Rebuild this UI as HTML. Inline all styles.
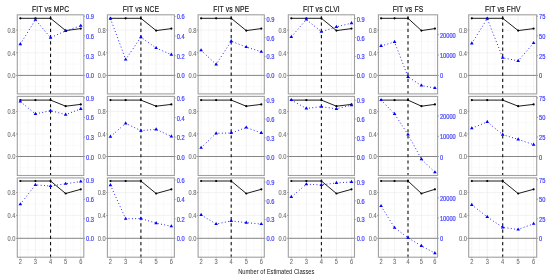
<!DOCTYPE html>
<html><head><meta charset="utf-8"><title>FIT vs indices</title>
<style>
html,body{margin:0;padding:0;background:#fff;}
body{width:550px;height:279px;overflow:hidden;}
svg{display:block;}
text{font-family:"Liberation Sans",Arial,sans-serif;}
.ax{font-size:6.4px;fill:#6E6E6E;stroke:#7a7a7a;stroke-width:0.1px;}
.axr{font-size:6.4px;fill:#3A3AFF;stroke:#5050FF;stroke-width:0.22px;}
.ti{font-size:8.1px;fill:#1A1A1A;stroke:#1A1A1A;stroke-width:0.18px;letter-spacing:0.2px;}
.xl{font-size:6.8px;fill:#1A1A1A;}
</style></head><body>
<svg width="550" height="279" viewBox="0 0 550 279">
<rect width="550" height="279" fill="#fff"/>
<line x1="17.3" y1="86.72" x2="83.8" y2="86.72" stroke="#F7F7F7" stroke-width="0.6"/><line x1="17.3" y1="64.08" x2="83.8" y2="64.08" stroke="#F7F7F7" stroke-width="0.6"/><line x1="17.3" y1="41.44" x2="83.8" y2="41.44" stroke="#F7F7F7" stroke-width="0.6"/><line x1="17.3" y1="18.8" x2="83.8" y2="18.8" stroke="#F7F7F7" stroke-width="0.6"/><line x1="27.88" y1="14.8" x2="27.88" y2="93.9" stroke="#F7F7F7" stroke-width="0.6"/><line x1="42.99" y1="14.8" x2="42.99" y2="93.9" stroke="#F7F7F7" stroke-width="0.6"/><line x1="58.11" y1="14.8" x2="58.11" y2="93.9" stroke="#F7F7F7" stroke-width="0.6"/><line x1="73.22" y1="14.8" x2="73.22" y2="93.9" stroke="#F7F7F7" stroke-width="0.6"/><line x1="17.3" y1="52.76" x2="83.8" y2="52.76" stroke="#F0F0F0" stroke-width="0.8"/><line x1="17.3" y1="30.12" x2="83.8" y2="30.12" stroke="#F0F0F0" stroke-width="0.8"/><line x1="20.32" y1="14.8" x2="20.32" y2="93.9" stroke="#F0F0F0" stroke-width="0.8"/><line x1="35.44" y1="14.8" x2="35.44" y2="93.9" stroke="#F0F0F0" stroke-width="0.8"/><line x1="50.55" y1="14.8" x2="50.55" y2="93.9" stroke="#F0F0F0" stroke-width="0.8"/><line x1="65.66" y1="14.8" x2="65.66" y2="93.9" stroke="#F0F0F0" stroke-width="0.8"/><line x1="80.78" y1="14.8" x2="80.78" y2="93.9" stroke="#F0F0F0" stroke-width="0.8"/>
<line x1="17.3" y1="75.4" x2="83.8" y2="75.4" stroke="#777" stroke-width="0.9"/>
<line x1="50.55" y1="93.9" x2="50.55" y2="14.8" stroke="#111" stroke-width="1.1" stroke-dasharray="3.1 3.15" stroke-dashoffset="0.5"/>
<polyline points="20.32,44.15 35.44,19.65 50.55,37.75 65.66,30.85 80.78,25.75" fill="none" stroke="#0000FF" stroke-width="1" stroke-dasharray="0.83 2.49" stroke-linecap="butt"/>
<polyline points="20.32,18.3 35.44,18.3 50.55,18.3 65.66,30.6 80.78,28.6" fill="none" stroke="#111" stroke-width="0.95"/>
<circle cx="20.32" cy="18.3" r="1.1" fill="#000"/>
<circle cx="35.44" cy="18.3" r="1.1" fill="#000"/>
<circle cx="50.55" cy="18.3" r="1.1" fill="#000"/>
<circle cx="65.66" cy="30.6" r="1.1" fill="#000"/>
<circle cx="80.78" cy="28.6" r="1.1" fill="#000"/>
<path d="M20.32 42.05L22.14 45.2L18.5 45.2Z" fill="#0000FF"/>
<path d="M35.44 17.55L37.25 20.7L33.62 20.7Z" fill="#0000FF"/>
<path d="M50.55 35.65L52.37 38.8L48.73 38.8Z" fill="#0000FF"/>
<path d="M65.66 28.75L67.48 31.9L63.85 31.9Z" fill="#0000FF"/>
<path d="M80.78 23.65L82.6 26.8L78.96 26.8Z" fill="#0000FF"/>
<rect x="17.3" y="14.8" width="66.5" height="79.1" fill="none" stroke="#A0A0A0" stroke-width="1.1"/>
<line x1="16" y1="75.4" x2="17.3" y2="75.4" stroke="#8C8C8C" stroke-width="0.8"/>
<text transform="translate(15.55 78.25) scale(0.89 1.08)" class="ax" text-anchor="end">0.0</text>
<line x1="16" y1="52.76" x2="17.3" y2="52.76" stroke="#8C8C8C" stroke-width="0.8"/>
<text transform="translate(15.55 55.61) scale(0.89 1.08)" class="ax" text-anchor="end">0.4</text>
<line x1="16" y1="30.12" x2="17.3" y2="30.12" stroke="#8C8C8C" stroke-width="0.8"/>
<text transform="translate(15.55 32.97) scale(0.89 1.08)" class="ax" text-anchor="end">0.8</text>
<line x1="83.8" y1="16.2" x2="85.1" y2="16.2" stroke="#8C8C8C" stroke-width="0.8"/>
<text transform="translate(86.1 19.2) scale(0.89 1.05)" class="axr">0.9</text>
<line x1="83.8" y1="35.9" x2="85.1" y2="35.9" stroke="#8C8C8C" stroke-width="0.8"/>
<text transform="translate(86.1 38.9) scale(0.89 1.05)" class="axr">0.6</text>
<line x1="83.8" y1="55.7" x2="85.1" y2="55.7" stroke="#8C8C8C" stroke-width="0.8"/>
<text transform="translate(86.1 58.7) scale(0.89 1.05)" class="axr">0.3</text>
<line x1="83.8" y1="75.4" x2="85.1" y2="75.4" stroke="#8C8C8C" stroke-width="0.8"/>
<text transform="translate(86.1 78.4) scale(0.89 1.05)" class="axr">0.0</text>
<text transform="translate(50.63 11.7) scale(0.835 1.08)" class="ti" text-anchor="middle">FIT vs MPC</text>
<line x1="107.4" y1="86.72" x2="174.4" y2="86.72" stroke="#F7F7F7" stroke-width="0.6"/><line x1="107.4" y1="64.08" x2="174.4" y2="64.08" stroke="#F7F7F7" stroke-width="0.6"/><line x1="107.4" y1="41.44" x2="174.4" y2="41.44" stroke="#F7F7F7" stroke-width="0.6"/><line x1="107.4" y1="18.8" x2="174.4" y2="18.8" stroke="#F7F7F7" stroke-width="0.6"/><line x1="118.06" y1="14.8" x2="118.06" y2="93.9" stroke="#F7F7F7" stroke-width="0.6"/><line x1="133.29" y1="14.8" x2="133.29" y2="93.9" stroke="#F7F7F7" stroke-width="0.6"/><line x1="148.51" y1="14.8" x2="148.51" y2="93.9" stroke="#F7F7F7" stroke-width="0.6"/><line x1="163.74" y1="14.8" x2="163.74" y2="93.9" stroke="#F7F7F7" stroke-width="0.6"/><line x1="107.4" y1="52.76" x2="174.4" y2="52.76" stroke="#F0F0F0" stroke-width="0.8"/><line x1="107.4" y1="30.12" x2="174.4" y2="30.12" stroke="#F0F0F0" stroke-width="0.8"/><line x1="110.45" y1="14.8" x2="110.45" y2="93.9" stroke="#F0F0F0" stroke-width="0.8"/><line x1="125.67" y1="14.8" x2="125.67" y2="93.9" stroke="#F0F0F0" stroke-width="0.8"/><line x1="140.9" y1="14.8" x2="140.9" y2="93.9" stroke="#F0F0F0" stroke-width="0.8"/><line x1="156.13" y1="14.8" x2="156.13" y2="93.9" stroke="#F0F0F0" stroke-width="0.8"/><line x1="171.35" y1="14.8" x2="171.35" y2="93.9" stroke="#F0F0F0" stroke-width="0.8"/>
<line x1="107.4" y1="75.4" x2="174.4" y2="75.4" stroke="#777" stroke-width="0.9"/>
<line x1="140.9" y1="93.9" x2="140.9" y2="14.8" stroke="#111" stroke-width="1.1" stroke-dasharray="3.1 3.15" stroke-dashoffset="0.5"/>
<polyline points="110.45,18.65 125.67,59.55 140.9,37.15 156.13,48.05 171.35,54.65" fill="none" stroke="#0000FF" stroke-width="1" stroke-dasharray="0.83 2.49" stroke-linecap="butt"/>
<polyline points="110.45,18.3 125.67,18.3 140.9,18.3 156.13,30.6 171.35,28.6" fill="none" stroke="#111" stroke-width="0.95"/>
<circle cx="110.45" cy="18.3" r="1.1" fill="#000"/>
<circle cx="125.67" cy="18.3" r="1.1" fill="#000"/>
<circle cx="140.9" cy="18.3" r="1.1" fill="#000"/>
<circle cx="156.13" cy="30.6" r="1.1" fill="#000"/>
<circle cx="171.35" cy="28.6" r="1.1" fill="#000"/>
<path d="M110.45 16.55L112.26 19.7L108.63 19.7Z" fill="#0000FF"/>
<path d="M125.67 57.45L127.49 60.6L123.85 60.6Z" fill="#0000FF"/>
<path d="M140.9 35.05L142.72 38.2L139.08 38.2Z" fill="#0000FF"/>
<path d="M156.13 45.95L157.95 49.1L154.31 49.1Z" fill="#0000FF"/>
<path d="M171.35 52.55L173.17 55.7L169.54 55.7Z" fill="#0000FF"/>
<rect x="107.4" y="14.8" width="67" height="79.1" fill="none" stroke="#A0A0A0" stroke-width="1.1"/>
<line x1="106.1" y1="75.4" x2="107.4" y2="75.4" stroke="#8C8C8C" stroke-width="0.8"/>
<text transform="translate(105.65 78.25) scale(0.89 1.08)" class="ax" text-anchor="end">0.0</text>
<line x1="106.1" y1="52.76" x2="107.4" y2="52.76" stroke="#8C8C8C" stroke-width="0.8"/>
<text transform="translate(105.65 55.61) scale(0.89 1.08)" class="ax" text-anchor="end">0.4</text>
<line x1="106.1" y1="30.12" x2="107.4" y2="30.12" stroke="#8C8C8C" stroke-width="0.8"/>
<text transform="translate(105.65 32.97) scale(0.89 1.08)" class="ax" text-anchor="end">0.8</text>
<line x1="174.4" y1="16.4" x2="175.7" y2="16.4" stroke="#8C8C8C" stroke-width="0.8"/>
<text transform="translate(176.7 19.4) scale(0.89 1.05)" class="axr">0.6</text>
<line x1="174.4" y1="36.1" x2="175.7" y2="36.1" stroke="#8C8C8C" stroke-width="0.8"/>
<text transform="translate(176.7 39.1) scale(0.89 1.05)" class="axr">0.4</text>
<line x1="174.4" y1="55.7" x2="175.7" y2="55.7" stroke="#8C8C8C" stroke-width="0.8"/>
<text transform="translate(176.7 58.7) scale(0.89 1.05)" class="axr">0.2</text>
<line x1="174.4" y1="75.4" x2="175.7" y2="75.4" stroke="#8C8C8C" stroke-width="0.8"/>
<text transform="translate(176.7 78.4) scale(0.89 1.05)" class="axr">0.0</text>
<text transform="translate(140.98 11.7) scale(0.835 1.08)" class="ti" text-anchor="middle">FIT vs NCE</text>
<line x1="198.1" y1="86.72" x2="264.3" y2="86.72" stroke="#F7F7F7" stroke-width="0.6"/><line x1="198.1" y1="64.08" x2="264.3" y2="64.08" stroke="#F7F7F7" stroke-width="0.6"/><line x1="198.1" y1="41.44" x2="264.3" y2="41.44" stroke="#F7F7F7" stroke-width="0.6"/><line x1="198.1" y1="18.8" x2="264.3" y2="18.8" stroke="#F7F7F7" stroke-width="0.6"/><line x1="208.63" y1="14.8" x2="208.63" y2="93.9" stroke="#F7F7F7" stroke-width="0.6"/><line x1="223.68" y1="14.8" x2="223.68" y2="93.9" stroke="#F7F7F7" stroke-width="0.6"/><line x1="238.72" y1="14.8" x2="238.72" y2="93.9" stroke="#F7F7F7" stroke-width="0.6"/><line x1="253.77" y1="14.8" x2="253.77" y2="93.9" stroke="#F7F7F7" stroke-width="0.6"/><line x1="198.1" y1="52.76" x2="264.3" y2="52.76" stroke="#F0F0F0" stroke-width="0.8"/><line x1="198.1" y1="30.12" x2="264.3" y2="30.12" stroke="#F0F0F0" stroke-width="0.8"/><line x1="201.11" y1="14.8" x2="201.11" y2="93.9" stroke="#F0F0F0" stroke-width="0.8"/><line x1="216.15" y1="14.8" x2="216.15" y2="93.9" stroke="#F0F0F0" stroke-width="0.8"/><line x1="231.2" y1="14.8" x2="231.2" y2="93.9" stroke="#F0F0F0" stroke-width="0.8"/><line x1="246.25" y1="14.8" x2="246.25" y2="93.9" stroke="#F0F0F0" stroke-width="0.8"/><line x1="261.29" y1="14.8" x2="261.29" y2="93.9" stroke="#F0F0F0" stroke-width="0.8"/>
<line x1="198.1" y1="75.4" x2="264.3" y2="75.4" stroke="#777" stroke-width="0.9"/>
<line x1="231.2" y1="93.9" x2="231.2" y2="14.8" stroke="#111" stroke-width="1.1" stroke-dasharray="3.1 3.15" stroke-dashoffset="0.5"/>
<polyline points="201.11,50.25 216.15,64.45 231.2,41.15 246.25,47.05 261.29,51.75" fill="none" stroke="#0000FF" stroke-width="1" stroke-dasharray="0.83 2.49" stroke-linecap="butt"/>
<polyline points="201.11,18.3 216.15,18.3 231.2,18.3 246.25,30.6 261.29,28.6" fill="none" stroke="#111" stroke-width="0.95"/>
<circle cx="201.11" cy="18.3" r="1.1" fill="#000"/>
<circle cx="216.15" cy="18.3" r="1.1" fill="#000"/>
<circle cx="231.2" cy="18.3" r="1.1" fill="#000"/>
<circle cx="246.25" cy="30.6" r="1.1" fill="#000"/>
<circle cx="261.29" cy="28.6" r="1.1" fill="#000"/>
<path d="M201.11 48.15L202.93 51.3L199.29 51.3Z" fill="#0000FF"/>
<path d="M216.15 62.35L217.97 65.5L214.34 65.5Z" fill="#0000FF"/>
<path d="M231.2 39.05L233.02 42.2L229.38 42.2Z" fill="#0000FF"/>
<path d="M246.25 44.95L248.06 48.1L244.43 48.1Z" fill="#0000FF"/>
<path d="M261.29 49.65L263.11 52.8L259.47 52.8Z" fill="#0000FF"/>
<rect x="198.1" y="14.8" width="66.2" height="79.1" fill="none" stroke="#A0A0A0" stroke-width="1.1"/>
<line x1="196.8" y1="75.4" x2="198.1" y2="75.4" stroke="#8C8C8C" stroke-width="0.8"/>
<text transform="translate(196.35 78.25) scale(0.89 1.08)" class="ax" text-anchor="end">0.0</text>
<line x1="196.8" y1="52.76" x2="198.1" y2="52.76" stroke="#8C8C8C" stroke-width="0.8"/>
<text transform="translate(196.35 55.61) scale(0.89 1.08)" class="ax" text-anchor="end">0.4</text>
<line x1="196.8" y1="30.12" x2="198.1" y2="30.12" stroke="#8C8C8C" stroke-width="0.8"/>
<text transform="translate(196.35 32.97) scale(0.89 1.08)" class="ax" text-anchor="end">0.8</text>
<line x1="264.3" y1="18.5" x2="265.6" y2="18.5" stroke="#8C8C8C" stroke-width="0.8"/>
<text transform="translate(266.6 21.5) scale(0.89 1.05)" class="axr">0.9</text>
<line x1="264.3" y1="37.5" x2="265.6" y2="37.5" stroke="#8C8C8C" stroke-width="0.8"/>
<text transform="translate(266.6 40.5) scale(0.89 1.05)" class="axr">0.6</text>
<line x1="264.3" y1="56.4" x2="265.6" y2="56.4" stroke="#8C8C8C" stroke-width="0.8"/>
<text transform="translate(266.6 59.4) scale(0.89 1.05)" class="axr">0.3</text>
<line x1="264.3" y1="75.4" x2="265.6" y2="75.4" stroke="#8C8C8C" stroke-width="0.8"/>
<text transform="translate(266.6 78.4) scale(0.89 1.05)" class="axr">0.0</text>
<text transform="translate(231.28 11.7) scale(0.835 1.08)" class="ti" text-anchor="middle">FIT vs NPE</text>
<line x1="288.3" y1="86.72" x2="354.5" y2="86.72" stroke="#F7F7F7" stroke-width="0.6"/><line x1="288.3" y1="64.08" x2="354.5" y2="64.08" stroke="#F7F7F7" stroke-width="0.6"/><line x1="288.3" y1="41.44" x2="354.5" y2="41.44" stroke="#F7F7F7" stroke-width="0.6"/><line x1="288.3" y1="18.8" x2="354.5" y2="18.8" stroke="#F7F7F7" stroke-width="0.6"/><line x1="298.83" y1="14.8" x2="298.83" y2="93.9" stroke="#F7F7F7" stroke-width="0.6"/><line x1="313.88" y1="14.8" x2="313.88" y2="93.9" stroke="#F7F7F7" stroke-width="0.6"/><line x1="328.92" y1="14.8" x2="328.92" y2="93.9" stroke="#F7F7F7" stroke-width="0.6"/><line x1="343.97" y1="14.8" x2="343.97" y2="93.9" stroke="#F7F7F7" stroke-width="0.6"/><line x1="288.3" y1="52.76" x2="354.5" y2="52.76" stroke="#F0F0F0" stroke-width="0.8"/><line x1="288.3" y1="30.12" x2="354.5" y2="30.12" stroke="#F0F0F0" stroke-width="0.8"/><line x1="291.31" y1="14.8" x2="291.31" y2="93.9" stroke="#F0F0F0" stroke-width="0.8"/><line x1="306.35" y1="14.8" x2="306.35" y2="93.9" stroke="#F0F0F0" stroke-width="0.8"/><line x1="321.4" y1="14.8" x2="321.4" y2="93.9" stroke="#F0F0F0" stroke-width="0.8"/><line x1="336.45" y1="14.8" x2="336.45" y2="93.9" stroke="#F0F0F0" stroke-width="0.8"/><line x1="351.49" y1="14.8" x2="351.49" y2="93.9" stroke="#F0F0F0" stroke-width="0.8"/>
<line x1="288.3" y1="75.4" x2="354.5" y2="75.4" stroke="#777" stroke-width="0.9"/>
<line x1="321.4" y1="93.9" x2="321.4" y2="14.8" stroke="#111" stroke-width="1.1" stroke-dasharray="3.1 3.15" stroke-dashoffset="0.5"/>
<polyline points="291.31,36.85 306.35,19.55 321.4,31.75 336.45,26.85 351.49,23.15" fill="none" stroke="#0000FF" stroke-width="1" stroke-dasharray="0.83 2.49" stroke-linecap="butt"/>
<polyline points="291.31,18.3 306.35,18.3 321.4,18.3 336.45,30.6 351.49,28.6" fill="none" stroke="#111" stroke-width="0.95"/>
<circle cx="291.31" cy="18.3" r="1.1" fill="#000"/>
<circle cx="306.35" cy="18.3" r="1.1" fill="#000"/>
<circle cx="321.4" cy="18.3" r="1.1" fill="#000"/>
<circle cx="336.45" cy="30.6" r="1.1" fill="#000"/>
<circle cx="351.49" cy="28.6" r="1.1" fill="#000"/>
<path d="M291.31 34.75L293.13 37.9L289.49 37.9Z" fill="#0000FF"/>
<path d="M306.35 17.45L308.17 20.6L304.54 20.6Z" fill="#0000FF"/>
<path d="M321.4 29.65L323.22 32.8L319.58 32.8Z" fill="#0000FF"/>
<path d="M336.45 24.75L338.26 27.9L334.63 27.9Z" fill="#0000FF"/>
<path d="M351.49 21.05L353.31 24.2L349.67 24.2Z" fill="#0000FF"/>
<rect x="288.3" y="14.8" width="66.2" height="79.1" fill="none" stroke="#A0A0A0" stroke-width="1.1"/>
<line x1="287" y1="75.4" x2="288.3" y2="75.4" stroke="#8C8C8C" stroke-width="0.8"/>
<text transform="translate(286.55 78.25) scale(0.89 1.08)" class="ax" text-anchor="end">0.0</text>
<line x1="287" y1="52.76" x2="288.3" y2="52.76" stroke="#8C8C8C" stroke-width="0.8"/>
<text transform="translate(286.55 55.61) scale(0.89 1.08)" class="ax" text-anchor="end">0.4</text>
<line x1="287" y1="30.12" x2="288.3" y2="30.12" stroke="#8C8C8C" stroke-width="0.8"/>
<text transform="translate(286.55 32.97) scale(0.89 1.08)" class="ax" text-anchor="end">0.8</text>
<line x1="354.5" y1="18.5" x2="355.8" y2="18.5" stroke="#8C8C8C" stroke-width="0.8"/>
<text transform="translate(356.8 21.5) scale(0.89 1.05)" class="axr">0.9</text>
<line x1="354.5" y1="37.5" x2="355.8" y2="37.5" stroke="#8C8C8C" stroke-width="0.8"/>
<text transform="translate(356.8 40.5) scale(0.89 1.05)" class="axr">0.6</text>
<line x1="354.5" y1="56.4" x2="355.8" y2="56.4" stroke="#8C8C8C" stroke-width="0.8"/>
<text transform="translate(356.8 59.4) scale(0.89 1.05)" class="axr">0.3</text>
<line x1="354.5" y1="75.4" x2="355.8" y2="75.4" stroke="#8C8C8C" stroke-width="0.8"/>
<text transform="translate(356.8 78.4) scale(0.89 1.05)" class="axr">0.0</text>
<text transform="translate(321.48 11.7) scale(0.835 1.08)" class="ti" text-anchor="middle">FIT vs CLVI</text>
<line x1="378.4" y1="86.72" x2="437.6" y2="86.72" stroke="#F7F7F7" stroke-width="0.6"/><line x1="378.4" y1="64.08" x2="437.6" y2="64.08" stroke="#F7F7F7" stroke-width="0.6"/><line x1="378.4" y1="41.44" x2="437.6" y2="41.44" stroke="#F7F7F7" stroke-width="0.6"/><line x1="378.4" y1="18.8" x2="437.6" y2="18.8" stroke="#F7F7F7" stroke-width="0.6"/><line x1="387.82" y1="14.8" x2="387.82" y2="93.9" stroke="#F7F7F7" stroke-width="0.6"/><line x1="401.27" y1="14.8" x2="401.27" y2="93.9" stroke="#F7F7F7" stroke-width="0.6"/><line x1="414.73" y1="14.8" x2="414.73" y2="93.9" stroke="#F7F7F7" stroke-width="0.6"/><line x1="428.18" y1="14.8" x2="428.18" y2="93.9" stroke="#F7F7F7" stroke-width="0.6"/><line x1="378.4" y1="52.76" x2="437.6" y2="52.76" stroke="#F0F0F0" stroke-width="0.8"/><line x1="378.4" y1="30.12" x2="437.6" y2="30.12" stroke="#F0F0F0" stroke-width="0.8"/><line x1="381.09" y1="14.8" x2="381.09" y2="93.9" stroke="#F0F0F0" stroke-width="0.8"/><line x1="394.55" y1="14.8" x2="394.55" y2="93.9" stroke="#F0F0F0" stroke-width="0.8"/><line x1="408" y1="14.8" x2="408" y2="93.9" stroke="#F0F0F0" stroke-width="0.8"/><line x1="421.45" y1="14.8" x2="421.45" y2="93.9" stroke="#F0F0F0" stroke-width="0.8"/><line x1="434.91" y1="14.8" x2="434.91" y2="93.9" stroke="#F0F0F0" stroke-width="0.8"/>
<line x1="378.4" y1="75.4" x2="437.6" y2="75.4" stroke="#777" stroke-width="0.9"/>
<line x1="408" y1="93.9" x2="408" y2="14.8" stroke="#111" stroke-width="1.1" stroke-dasharray="3.1 3.15" stroke-dashoffset="0.5"/>
<polyline points="381.09,45.95 394.55,41.95 408,76.85 421.45,85.55 434.91,88.05" fill="none" stroke="#0000FF" stroke-width="1" stroke-dasharray="0.83 2.49" stroke-linecap="butt"/>
<polyline points="381.09,18.3 394.55,18.3 408,18.3 421.45,30.6 434.91,28.6" fill="none" stroke="#111" stroke-width="0.95"/>
<circle cx="381.09" cy="18.3" r="1.1" fill="#000"/>
<circle cx="394.55" cy="18.3" r="1.1" fill="#000"/>
<circle cx="408" cy="18.3" r="1.1" fill="#000"/>
<circle cx="421.45" cy="30.6" r="1.1" fill="#000"/>
<circle cx="434.91" cy="28.6" r="1.1" fill="#000"/>
<path d="M381.09 43.85L382.91 47L379.27 47Z" fill="#0000FF"/>
<path d="M394.55 39.85L396.36 43L392.73 43Z" fill="#0000FF"/>
<path d="M408 74.75L409.82 77.9L406.18 77.9Z" fill="#0000FF"/>
<path d="M421.45 83.45L423.27 86.6L419.64 86.6Z" fill="#0000FF"/>
<path d="M434.91 85.95L436.73 89.1L433.09 89.1Z" fill="#0000FF"/>
<rect x="378.4" y="14.8" width="59.2" height="79.1" fill="none" stroke="#A0A0A0" stroke-width="1.1"/>
<line x1="377.1" y1="75.4" x2="378.4" y2="75.4" stroke="#8C8C8C" stroke-width="0.8"/>
<text transform="translate(376.65 78.25) scale(0.89 1.08)" class="ax" text-anchor="end">0.0</text>
<line x1="377.1" y1="52.76" x2="378.4" y2="52.76" stroke="#8C8C8C" stroke-width="0.8"/>
<text transform="translate(376.65 55.61) scale(0.89 1.08)" class="ax" text-anchor="end">0.4</text>
<line x1="377.1" y1="30.12" x2="378.4" y2="30.12" stroke="#8C8C8C" stroke-width="0.8"/>
<text transform="translate(376.65 32.97) scale(0.89 1.08)" class="ax" text-anchor="end">0.8</text>
<line x1="437.6" y1="34.6" x2="438.9" y2="34.6" stroke="#8C8C8C" stroke-width="0.8"/>
<text transform="translate(439.9 37.6) scale(0.89 1.05)" class="axr">20000</text>
<line x1="437.6" y1="55" x2="438.9" y2="55" stroke="#8C8C8C" stroke-width="0.8"/>
<text transform="translate(439.9 58) scale(0.89 1.05)" class="axr">10000</text>
<line x1="437.6" y1="75.4" x2="438.9" y2="75.4" stroke="#8C8C8C" stroke-width="0.8"/>
<text transform="translate(439.9 78.4) scale(0.89 1.05)" class="axr">0</text>
<text transform="translate(408.08 11.7) scale(0.835 1.08)" class="ti" text-anchor="middle">FIT vs FS</text>
<line x1="468.7" y1="86.72" x2="536.7" y2="86.72" stroke="#F7F7F7" stroke-width="0.6"/><line x1="468.7" y1="64.08" x2="536.7" y2="64.08" stroke="#F7F7F7" stroke-width="0.6"/><line x1="468.7" y1="41.44" x2="536.7" y2="41.44" stroke="#F7F7F7" stroke-width="0.6"/><line x1="468.7" y1="18.8" x2="536.7" y2="18.8" stroke="#F7F7F7" stroke-width="0.6"/><line x1="479.52" y1="14.8" x2="479.52" y2="93.9" stroke="#F7F7F7" stroke-width="0.6"/><line x1="494.97" y1="14.8" x2="494.97" y2="93.9" stroke="#F7F7F7" stroke-width="0.6"/><line x1="510.43" y1="14.8" x2="510.43" y2="93.9" stroke="#F7F7F7" stroke-width="0.6"/><line x1="525.88" y1="14.8" x2="525.88" y2="93.9" stroke="#F7F7F7" stroke-width="0.6"/><line x1="468.7" y1="52.76" x2="536.7" y2="52.76" stroke="#F0F0F0" stroke-width="0.8"/><line x1="468.7" y1="30.12" x2="536.7" y2="30.12" stroke="#F0F0F0" stroke-width="0.8"/><line x1="471.79" y1="14.8" x2="471.79" y2="93.9" stroke="#F0F0F0" stroke-width="0.8"/><line x1="487.25" y1="14.8" x2="487.25" y2="93.9" stroke="#F0F0F0" stroke-width="0.8"/><line x1="502.7" y1="14.8" x2="502.7" y2="93.9" stroke="#F0F0F0" stroke-width="0.8"/><line x1="518.15" y1="14.8" x2="518.15" y2="93.9" stroke="#F0F0F0" stroke-width="0.8"/><line x1="533.61" y1="14.8" x2="533.61" y2="93.9" stroke="#F0F0F0" stroke-width="0.8"/>
<line x1="468.7" y1="75.4" x2="536.7" y2="75.4" stroke="#777" stroke-width="0.9"/>
<line x1="502.7" y1="93.9" x2="502.7" y2="14.8" stroke="#111" stroke-width="1.1" stroke-dasharray="3.1 3.15" stroke-dashoffset="0.5"/>
<polyline points="471.79,43.35 487.25,18.65 502.7,57.75 518.15,60.85 533.61,43.05" fill="none" stroke="#0000FF" stroke-width="1" stroke-dasharray="0.83 2.49" stroke-linecap="butt"/>
<polyline points="471.79,18.3 487.25,18.3 502.7,18.3 518.15,30.6 533.61,28.6" fill="none" stroke="#111" stroke-width="0.95"/>
<circle cx="471.79" cy="18.3" r="1.1" fill="#000"/>
<circle cx="487.25" cy="18.3" r="1.1" fill="#000"/>
<circle cx="502.7" cy="18.3" r="1.1" fill="#000"/>
<circle cx="518.15" cy="30.6" r="1.1" fill="#000"/>
<circle cx="533.61" cy="28.6" r="1.1" fill="#000"/>
<path d="M471.79 41.25L473.61 44.4L469.97 44.4Z" fill="#0000FF"/>
<path d="M487.25 16.55L489.06 19.7L485.43 19.7Z" fill="#0000FF"/>
<path d="M502.7 55.65L504.52 58.8L500.88 58.8Z" fill="#0000FF"/>
<path d="M518.15 58.75L519.97 61.9L516.34 61.9Z" fill="#0000FF"/>
<path d="M533.61 40.95L535.43 44.1L531.79 44.1Z" fill="#0000FF"/>
<rect x="468.7" y="14.8" width="68" height="79.1" fill="none" stroke="#A0A0A0" stroke-width="1.1"/>
<line x1="467.4" y1="75.4" x2="468.7" y2="75.4" stroke="#8C8C8C" stroke-width="0.8"/>
<text transform="translate(466.95 78.25) scale(0.89 1.08)" class="ax" text-anchor="end">0.0</text>
<line x1="467.4" y1="52.76" x2="468.7" y2="52.76" stroke="#8C8C8C" stroke-width="0.8"/>
<text transform="translate(466.95 55.61) scale(0.89 1.08)" class="ax" text-anchor="end">0.4</text>
<line x1="467.4" y1="30.12" x2="468.7" y2="30.12" stroke="#8C8C8C" stroke-width="0.8"/>
<text transform="translate(466.95 32.97) scale(0.89 1.08)" class="ax" text-anchor="end">0.8</text>
<line x1="536.7" y1="16.2" x2="538" y2="16.2" stroke="#8C8C8C" stroke-width="0.8"/>
<text transform="translate(539 19.2) scale(0.89 1.05)" class="axr">75</text>
<line x1="536.7" y1="35.9" x2="538" y2="35.9" stroke="#8C8C8C" stroke-width="0.8"/>
<text transform="translate(539 38.9) scale(0.89 1.05)" class="axr">50</text>
<line x1="536.7" y1="55.7" x2="538" y2="55.7" stroke="#8C8C8C" stroke-width="0.8"/>
<text transform="translate(539 58.7) scale(0.89 1.05)" class="axr">25</text>
<line x1="536.7" y1="75.4" x2="538" y2="75.4" stroke="#8C8C8C" stroke-width="0.8"/>
<text transform="translate(539 78.4) scale(0.89 1.05)" class="axr">0</text>
<text transform="translate(502.78 11.7) scale(0.835 1.08)" class="ti" text-anchor="middle">FIT vs FHV</text>
<line x1="17.3" y1="167.76" x2="83.8" y2="167.76" stroke="#F7F7F7" stroke-width="0.6"/><line x1="17.3" y1="145.24" x2="83.8" y2="145.24" stroke="#F7F7F7" stroke-width="0.6"/><line x1="17.3" y1="122.72" x2="83.8" y2="122.72" stroke="#F7F7F7" stroke-width="0.6"/><line x1="17.3" y1="100.2" x2="83.8" y2="100.2" stroke="#F7F7F7" stroke-width="0.6"/><line x1="27.88" y1="96.4" x2="27.88" y2="175.5" stroke="#F7F7F7" stroke-width="0.6"/><line x1="42.99" y1="96.4" x2="42.99" y2="175.5" stroke="#F7F7F7" stroke-width="0.6"/><line x1="58.11" y1="96.4" x2="58.11" y2="175.5" stroke="#F7F7F7" stroke-width="0.6"/><line x1="73.22" y1="96.4" x2="73.22" y2="175.5" stroke="#F7F7F7" stroke-width="0.6"/><line x1="17.3" y1="133.98" x2="83.8" y2="133.98" stroke="#F0F0F0" stroke-width="0.8"/><line x1="17.3" y1="111.46" x2="83.8" y2="111.46" stroke="#F0F0F0" stroke-width="0.8"/><line x1="20.32" y1="96.4" x2="20.32" y2="175.5" stroke="#F0F0F0" stroke-width="0.8"/><line x1="35.44" y1="96.4" x2="35.44" y2="175.5" stroke="#F0F0F0" stroke-width="0.8"/><line x1="50.55" y1="96.4" x2="50.55" y2="175.5" stroke="#F0F0F0" stroke-width="0.8"/><line x1="65.66" y1="96.4" x2="65.66" y2="175.5" stroke="#F0F0F0" stroke-width="0.8"/><line x1="80.78" y1="96.4" x2="80.78" y2="175.5" stroke="#F0F0F0" stroke-width="0.8"/>
<line x1="17.3" y1="156.5" x2="83.8" y2="156.5" stroke="#777" stroke-width="0.9"/>
<line x1="50.55" y1="175.5" x2="50.55" y2="96.4" stroke="#111" stroke-width="1.1" stroke-dasharray="3.1 3.15" stroke-dashoffset="0.5"/>
<polyline points="20.32,101.55 35.44,113.95 50.55,110.65 65.66,114.65 80.78,108.85" fill="none" stroke="#0000FF" stroke-width="1" stroke-dasharray="0.83 2.49" stroke-linecap="butt"/>
<polyline points="20.32,100.1 35.44,100.1 50.55,100.1 65.66,106.2 80.78,104.4" fill="none" stroke="#111" stroke-width="0.95"/>
<circle cx="20.32" cy="100.1" r="1.1" fill="#000"/>
<circle cx="35.44" cy="100.1" r="1.1" fill="#000"/>
<circle cx="50.55" cy="100.1" r="1.1" fill="#000"/>
<circle cx="65.66" cy="106.2" r="1.1" fill="#000"/>
<circle cx="80.78" cy="104.4" r="1.1" fill="#000"/>
<path d="M20.32 99.45L22.14 102.6L18.5 102.6Z" fill="#0000FF"/>
<path d="M35.44 111.85L37.25 115L33.62 115Z" fill="#0000FF"/>
<path d="M50.55 108.55L52.37 111.7L48.73 111.7Z" fill="#0000FF"/>
<path d="M65.66 112.55L67.48 115.7L63.85 115.7Z" fill="#0000FF"/>
<path d="M80.78 106.75L82.6 109.9L78.96 109.9Z" fill="#0000FF"/>
<rect x="17.3" y="96.4" width="66.5" height="79.1" fill="none" stroke="#A0A0A0" stroke-width="1.1"/>
<line x1="16" y1="156.5" x2="17.3" y2="156.5" stroke="#8C8C8C" stroke-width="0.8"/>
<text transform="translate(15.55 159.35) scale(0.89 1.08)" class="ax" text-anchor="end">0.0</text>
<line x1="16" y1="133.98" x2="17.3" y2="133.98" stroke="#8C8C8C" stroke-width="0.8"/>
<text transform="translate(15.55 136.83) scale(0.89 1.08)" class="ax" text-anchor="end">0.4</text>
<line x1="16" y1="111.46" x2="17.3" y2="111.46" stroke="#8C8C8C" stroke-width="0.8"/>
<text transform="translate(15.55 114.31) scale(0.89 1.08)" class="ax" text-anchor="end">0.8</text>
<line x1="83.8" y1="97.89" x2="85.1" y2="97.89" stroke="#8C8C8C" stroke-width="0.8"/>
<text transform="translate(86.1 100.89) scale(0.89 1.05)" class="axr">0.9</text>
<line x1="83.8" y1="117.4" x2="85.1" y2="117.4" stroke="#8C8C8C" stroke-width="0.8"/>
<text transform="translate(86.1 120.4) scale(0.89 1.05)" class="axr">0.6</text>
<line x1="83.8" y1="137" x2="85.1" y2="137" stroke="#8C8C8C" stroke-width="0.8"/>
<text transform="translate(86.1 140) scale(0.89 1.05)" class="axr">0.3</text>
<line x1="83.8" y1="156.5" x2="85.1" y2="156.5" stroke="#8C8C8C" stroke-width="0.8"/>
<text transform="translate(86.1 159.5) scale(0.89 1.05)" class="axr">0.0</text>
<line x1="107.4" y1="167.76" x2="174.4" y2="167.76" stroke="#F7F7F7" stroke-width="0.6"/><line x1="107.4" y1="145.24" x2="174.4" y2="145.24" stroke="#F7F7F7" stroke-width="0.6"/><line x1="107.4" y1="122.72" x2="174.4" y2="122.72" stroke="#F7F7F7" stroke-width="0.6"/><line x1="107.4" y1="100.2" x2="174.4" y2="100.2" stroke="#F7F7F7" stroke-width="0.6"/><line x1="118.06" y1="96.4" x2="118.06" y2="175.5" stroke="#F7F7F7" stroke-width="0.6"/><line x1="133.29" y1="96.4" x2="133.29" y2="175.5" stroke="#F7F7F7" stroke-width="0.6"/><line x1="148.51" y1="96.4" x2="148.51" y2="175.5" stroke="#F7F7F7" stroke-width="0.6"/><line x1="163.74" y1="96.4" x2="163.74" y2="175.5" stroke="#F7F7F7" stroke-width="0.6"/><line x1="107.4" y1="133.98" x2="174.4" y2="133.98" stroke="#F0F0F0" stroke-width="0.8"/><line x1="107.4" y1="111.46" x2="174.4" y2="111.46" stroke="#F0F0F0" stroke-width="0.8"/><line x1="110.45" y1="96.4" x2="110.45" y2="175.5" stroke="#F0F0F0" stroke-width="0.8"/><line x1="125.67" y1="96.4" x2="125.67" y2="175.5" stroke="#F0F0F0" stroke-width="0.8"/><line x1="140.9" y1="96.4" x2="140.9" y2="175.5" stroke="#F0F0F0" stroke-width="0.8"/><line x1="156.13" y1="96.4" x2="156.13" y2="175.5" stroke="#F0F0F0" stroke-width="0.8"/><line x1="171.35" y1="96.4" x2="171.35" y2="175.5" stroke="#F0F0F0" stroke-width="0.8"/>
<line x1="107.4" y1="156.5" x2="174.4" y2="156.5" stroke="#777" stroke-width="0.9"/>
<line x1="140.9" y1="175.5" x2="140.9" y2="96.4" stroke="#111" stroke-width="1.1" stroke-dasharray="3.1 3.15" stroke-dashoffset="0.5"/>
<polyline points="110.45,136.65 125.67,123.35 140.9,130.65 156.13,129.35 171.35,136.45" fill="none" stroke="#0000FF" stroke-width="1" stroke-dasharray="0.83 2.49" stroke-linecap="butt"/>
<polyline points="110.45,100.1 125.67,100.1 140.9,100.1 156.13,106.2 171.35,104.4" fill="none" stroke="#111" stroke-width="0.95"/>
<circle cx="110.45" cy="100.1" r="1.1" fill="#000"/>
<circle cx="125.67" cy="100.1" r="1.1" fill="#000"/>
<circle cx="140.9" cy="100.1" r="1.1" fill="#000"/>
<circle cx="156.13" cy="106.2" r="1.1" fill="#000"/>
<circle cx="171.35" cy="104.4" r="1.1" fill="#000"/>
<path d="M110.45 134.55L112.26 137.7L108.63 137.7Z" fill="#0000FF"/>
<path d="M125.67 121.25L127.49 124.4L123.85 124.4Z" fill="#0000FF"/>
<path d="M140.9 128.55L142.72 131.7L139.08 131.7Z" fill="#0000FF"/>
<path d="M156.13 127.25L157.95 130.4L154.31 130.4Z" fill="#0000FF"/>
<path d="M171.35 134.35L173.17 137.5L169.54 137.5Z" fill="#0000FF"/>
<rect x="107.4" y="96.4" width="67" height="79.1" fill="none" stroke="#A0A0A0" stroke-width="1.1"/>
<line x1="106.1" y1="156.5" x2="107.4" y2="156.5" stroke="#8C8C8C" stroke-width="0.8"/>
<text transform="translate(105.65 159.35) scale(0.89 1.08)" class="ax" text-anchor="end">0.0</text>
<line x1="106.1" y1="133.98" x2="107.4" y2="133.98" stroke="#8C8C8C" stroke-width="0.8"/>
<text transform="translate(105.65 136.83) scale(0.89 1.08)" class="ax" text-anchor="end">0.4</text>
<line x1="106.1" y1="111.46" x2="107.4" y2="111.46" stroke="#8C8C8C" stroke-width="0.8"/>
<text transform="translate(105.65 114.31) scale(0.89 1.08)" class="ax" text-anchor="end">0.8</text>
<line x1="174.4" y1="98.09" x2="175.7" y2="98.09" stroke="#8C8C8C" stroke-width="0.8"/>
<text transform="translate(176.7 101.09) scale(0.89 1.05)" class="axr">0.6</text>
<line x1="174.4" y1="117.59" x2="175.7" y2="117.59" stroke="#8C8C8C" stroke-width="0.8"/>
<text transform="translate(176.7 120.59) scale(0.89 1.05)" class="axr">0.4</text>
<line x1="174.4" y1="137" x2="175.7" y2="137" stroke="#8C8C8C" stroke-width="0.8"/>
<text transform="translate(176.7 140) scale(0.89 1.05)" class="axr">0.2</text>
<line x1="174.4" y1="156.5" x2="175.7" y2="156.5" stroke="#8C8C8C" stroke-width="0.8"/>
<text transform="translate(176.7 159.5) scale(0.89 1.05)" class="axr">0.0</text>
<line x1="198.1" y1="167.76" x2="264.3" y2="167.76" stroke="#F7F7F7" stroke-width="0.6"/><line x1="198.1" y1="145.24" x2="264.3" y2="145.24" stroke="#F7F7F7" stroke-width="0.6"/><line x1="198.1" y1="122.72" x2="264.3" y2="122.72" stroke="#F7F7F7" stroke-width="0.6"/><line x1="198.1" y1="100.2" x2="264.3" y2="100.2" stroke="#F7F7F7" stroke-width="0.6"/><line x1="208.63" y1="96.4" x2="208.63" y2="175.5" stroke="#F7F7F7" stroke-width="0.6"/><line x1="223.68" y1="96.4" x2="223.68" y2="175.5" stroke="#F7F7F7" stroke-width="0.6"/><line x1="238.72" y1="96.4" x2="238.72" y2="175.5" stroke="#F7F7F7" stroke-width="0.6"/><line x1="253.77" y1="96.4" x2="253.77" y2="175.5" stroke="#F7F7F7" stroke-width="0.6"/><line x1="198.1" y1="133.98" x2="264.3" y2="133.98" stroke="#F0F0F0" stroke-width="0.8"/><line x1="198.1" y1="111.46" x2="264.3" y2="111.46" stroke="#F0F0F0" stroke-width="0.8"/><line x1="201.11" y1="96.4" x2="201.11" y2="175.5" stroke="#F0F0F0" stroke-width="0.8"/><line x1="216.15" y1="96.4" x2="216.15" y2="175.5" stroke="#F0F0F0" stroke-width="0.8"/><line x1="231.2" y1="96.4" x2="231.2" y2="175.5" stroke="#F0F0F0" stroke-width="0.8"/><line x1="246.25" y1="96.4" x2="246.25" y2="175.5" stroke="#F0F0F0" stroke-width="0.8"/><line x1="261.29" y1="96.4" x2="261.29" y2="175.5" stroke="#F0F0F0" stroke-width="0.8"/>
<line x1="198.1" y1="156.5" x2="264.3" y2="156.5" stroke="#777" stroke-width="0.9"/>
<line x1="231.2" y1="175.5" x2="231.2" y2="96.4" stroke="#111" stroke-width="1.1" stroke-dasharray="3.1 3.15" stroke-dashoffset="0.5"/>
<polyline points="201.11,147.75 216.15,133.35 231.2,132.95 246.25,127.55 261.29,132.85" fill="none" stroke="#0000FF" stroke-width="1" stroke-dasharray="0.83 2.49" stroke-linecap="butt"/>
<polyline points="201.11,100.1 216.15,100.1 231.2,100.1 246.25,106.2 261.29,104.4" fill="none" stroke="#111" stroke-width="0.95"/>
<circle cx="201.11" cy="100.1" r="1.1" fill="#000"/>
<circle cx="216.15" cy="100.1" r="1.1" fill="#000"/>
<circle cx="231.2" cy="100.1" r="1.1" fill="#000"/>
<circle cx="246.25" cy="106.2" r="1.1" fill="#000"/>
<circle cx="261.29" cy="104.4" r="1.1" fill="#000"/>
<path d="M201.11 145.65L202.93 148.8L199.29 148.8Z" fill="#0000FF"/>
<path d="M216.15 131.25L217.97 134.4L214.34 134.4Z" fill="#0000FF"/>
<path d="M231.2 130.85L233.02 134L229.38 134Z" fill="#0000FF"/>
<path d="M246.25 125.45L248.06 128.6L244.43 128.6Z" fill="#0000FF"/>
<path d="M261.29 130.75L263.11 133.9L259.47 133.9Z" fill="#0000FF"/>
<rect x="198.1" y="96.4" width="66.2" height="79.1" fill="none" stroke="#A0A0A0" stroke-width="1.1"/>
<line x1="196.8" y1="156.5" x2="198.1" y2="156.5" stroke="#8C8C8C" stroke-width="0.8"/>
<text transform="translate(196.35 159.35) scale(0.89 1.08)" class="ax" text-anchor="end">0.0</text>
<line x1="196.8" y1="133.98" x2="198.1" y2="133.98" stroke="#8C8C8C" stroke-width="0.8"/>
<text transform="translate(196.35 136.83) scale(0.89 1.08)" class="ax" text-anchor="end">0.4</text>
<line x1="196.8" y1="111.46" x2="198.1" y2="111.46" stroke="#8C8C8C" stroke-width="0.8"/>
<text transform="translate(196.35 114.31) scale(0.89 1.08)" class="ax" text-anchor="end">0.8</text>
<line x1="264.3" y1="100.17" x2="265.6" y2="100.17" stroke="#8C8C8C" stroke-width="0.8"/>
<text transform="translate(266.6 103.17) scale(0.89 1.05)" class="axr">0.9</text>
<line x1="264.3" y1="118.98" x2="265.6" y2="118.98" stroke="#8C8C8C" stroke-width="0.8"/>
<text transform="translate(266.6 121.98) scale(0.89 1.05)" class="axr">0.6</text>
<line x1="264.3" y1="137.69" x2="265.6" y2="137.69" stroke="#8C8C8C" stroke-width="0.8"/>
<text transform="translate(266.6 140.69) scale(0.89 1.05)" class="axr">0.3</text>
<line x1="264.3" y1="156.5" x2="265.6" y2="156.5" stroke="#8C8C8C" stroke-width="0.8"/>
<text transform="translate(266.6 159.5) scale(0.89 1.05)" class="axr">0.0</text>
<line x1="288.3" y1="167.76" x2="354.5" y2="167.76" stroke="#F7F7F7" stroke-width="0.6"/><line x1="288.3" y1="145.24" x2="354.5" y2="145.24" stroke="#F7F7F7" stroke-width="0.6"/><line x1="288.3" y1="122.72" x2="354.5" y2="122.72" stroke="#F7F7F7" stroke-width="0.6"/><line x1="288.3" y1="100.2" x2="354.5" y2="100.2" stroke="#F7F7F7" stroke-width="0.6"/><line x1="298.83" y1="96.4" x2="298.83" y2="175.5" stroke="#F7F7F7" stroke-width="0.6"/><line x1="313.88" y1="96.4" x2="313.88" y2="175.5" stroke="#F7F7F7" stroke-width="0.6"/><line x1="328.92" y1="96.4" x2="328.92" y2="175.5" stroke="#F7F7F7" stroke-width="0.6"/><line x1="343.97" y1="96.4" x2="343.97" y2="175.5" stroke="#F7F7F7" stroke-width="0.6"/><line x1="288.3" y1="133.98" x2="354.5" y2="133.98" stroke="#F0F0F0" stroke-width="0.8"/><line x1="288.3" y1="111.46" x2="354.5" y2="111.46" stroke="#F0F0F0" stroke-width="0.8"/><line x1="291.31" y1="96.4" x2="291.31" y2="175.5" stroke="#F0F0F0" stroke-width="0.8"/><line x1="306.35" y1="96.4" x2="306.35" y2="175.5" stroke="#F0F0F0" stroke-width="0.8"/><line x1="321.4" y1="96.4" x2="321.4" y2="175.5" stroke="#F0F0F0" stroke-width="0.8"/><line x1="336.45" y1="96.4" x2="336.45" y2="175.5" stroke="#F0F0F0" stroke-width="0.8"/><line x1="351.49" y1="96.4" x2="351.49" y2="175.5" stroke="#F0F0F0" stroke-width="0.8"/>
<line x1="288.3" y1="156.5" x2="354.5" y2="156.5" stroke="#777" stroke-width="0.9"/>
<line x1="321.4" y1="175.5" x2="321.4" y2="96.4" stroke="#111" stroke-width="1.1" stroke-dasharray="3.1 3.15" stroke-dashoffset="0.5"/>
<polyline points="291.31,100.05 306.35,108.45 321.4,106.65 336.45,108.85 351.49,105.15" fill="none" stroke="#0000FF" stroke-width="1" stroke-dasharray="0.83 2.49" stroke-linecap="butt"/>
<polyline points="291.31,100.1 306.35,100.1 321.4,100.1 336.45,106.2 351.49,104.4" fill="none" stroke="#111" stroke-width="0.95"/>
<circle cx="291.31" cy="100.1" r="1.1" fill="#000"/>
<circle cx="306.35" cy="100.1" r="1.1" fill="#000"/>
<circle cx="321.4" cy="100.1" r="1.1" fill="#000"/>
<circle cx="336.45" cy="106.2" r="1.1" fill="#000"/>
<circle cx="351.49" cy="104.4" r="1.1" fill="#000"/>
<path d="M291.31 97.95L293.13 101.1L289.49 101.1Z" fill="#0000FF"/>
<path d="M306.35 106.35L308.17 109.5L304.54 109.5Z" fill="#0000FF"/>
<path d="M321.4 104.55L323.22 107.7L319.58 107.7Z" fill="#0000FF"/>
<path d="M336.45 106.75L338.26 109.9L334.63 109.9Z" fill="#0000FF"/>
<path d="M351.49 103.05L353.31 106.2L349.67 106.2Z" fill="#0000FF"/>
<rect x="288.3" y="96.4" width="66.2" height="79.1" fill="none" stroke="#A0A0A0" stroke-width="1.1"/>
<line x1="287" y1="156.5" x2="288.3" y2="156.5" stroke="#8C8C8C" stroke-width="0.8"/>
<text transform="translate(286.55 159.35) scale(0.89 1.08)" class="ax" text-anchor="end">0.0</text>
<line x1="287" y1="133.98" x2="288.3" y2="133.98" stroke="#8C8C8C" stroke-width="0.8"/>
<text transform="translate(286.55 136.83) scale(0.89 1.08)" class="ax" text-anchor="end">0.4</text>
<line x1="287" y1="111.46" x2="288.3" y2="111.46" stroke="#8C8C8C" stroke-width="0.8"/>
<text transform="translate(286.55 114.31) scale(0.89 1.08)" class="ax" text-anchor="end">0.8</text>
<line x1="354.5" y1="100.17" x2="355.8" y2="100.17" stroke="#8C8C8C" stroke-width="0.8"/>
<text transform="translate(356.8 103.17) scale(0.89 1.05)" class="axr">0.9</text>
<line x1="354.5" y1="118.98" x2="355.8" y2="118.98" stroke="#8C8C8C" stroke-width="0.8"/>
<text transform="translate(356.8 121.98) scale(0.89 1.05)" class="axr">0.6</text>
<line x1="354.5" y1="137.69" x2="355.8" y2="137.69" stroke="#8C8C8C" stroke-width="0.8"/>
<text transform="translate(356.8 140.69) scale(0.89 1.05)" class="axr">0.3</text>
<line x1="354.5" y1="156.5" x2="355.8" y2="156.5" stroke="#8C8C8C" stroke-width="0.8"/>
<text transform="translate(356.8 159.5) scale(0.89 1.05)" class="axr">0.0</text>
<line x1="378.4" y1="167.76" x2="437.6" y2="167.76" stroke="#F7F7F7" stroke-width="0.6"/><line x1="378.4" y1="145.24" x2="437.6" y2="145.24" stroke="#F7F7F7" stroke-width="0.6"/><line x1="378.4" y1="122.72" x2="437.6" y2="122.72" stroke="#F7F7F7" stroke-width="0.6"/><line x1="378.4" y1="100.2" x2="437.6" y2="100.2" stroke="#F7F7F7" stroke-width="0.6"/><line x1="387.82" y1="96.4" x2="387.82" y2="175.5" stroke="#F7F7F7" stroke-width="0.6"/><line x1="401.27" y1="96.4" x2="401.27" y2="175.5" stroke="#F7F7F7" stroke-width="0.6"/><line x1="414.73" y1="96.4" x2="414.73" y2="175.5" stroke="#F7F7F7" stroke-width="0.6"/><line x1="428.18" y1="96.4" x2="428.18" y2="175.5" stroke="#F7F7F7" stroke-width="0.6"/><line x1="378.4" y1="133.98" x2="437.6" y2="133.98" stroke="#F0F0F0" stroke-width="0.8"/><line x1="378.4" y1="111.46" x2="437.6" y2="111.46" stroke="#F0F0F0" stroke-width="0.8"/><line x1="381.09" y1="96.4" x2="381.09" y2="175.5" stroke="#F0F0F0" stroke-width="0.8"/><line x1="394.55" y1="96.4" x2="394.55" y2="175.5" stroke="#F0F0F0" stroke-width="0.8"/><line x1="408" y1="96.4" x2="408" y2="175.5" stroke="#F0F0F0" stroke-width="0.8"/><line x1="421.45" y1="96.4" x2="421.45" y2="175.5" stroke="#F0F0F0" stroke-width="0.8"/><line x1="434.91" y1="96.4" x2="434.91" y2="175.5" stroke="#F0F0F0" stroke-width="0.8"/>
<line x1="378.4" y1="156.5" x2="437.6" y2="156.5" stroke="#777" stroke-width="0.9"/>
<line x1="408" y1="175.5" x2="408" y2="96.4" stroke="#111" stroke-width="1.1" stroke-dasharray="3.1 3.15" stroke-dashoffset="0.5"/>
<polyline points="381.09,100.05 394.55,113.95 408,134.55 421.45,159.15 434.91,172.25" fill="none" stroke="#0000FF" stroke-width="1" stroke-dasharray="0.83 2.49" stroke-linecap="butt"/>
<polyline points="381.09,100.1 394.55,100.1 408,100.1 421.45,106.2 434.91,104.4" fill="none" stroke="#111" stroke-width="0.95"/>
<circle cx="381.09" cy="100.1" r="1.1" fill="#000"/>
<circle cx="394.55" cy="100.1" r="1.1" fill="#000"/>
<circle cx="408" cy="100.1" r="1.1" fill="#000"/>
<circle cx="421.45" cy="106.2" r="1.1" fill="#000"/>
<circle cx="434.91" cy="104.4" r="1.1" fill="#000"/>
<path d="M381.09 97.95L382.91 101.1L379.27 101.1Z" fill="#0000FF"/>
<path d="M394.55 111.85L396.36 115L392.73 115Z" fill="#0000FF"/>
<path d="M408 132.45L409.82 135.6L406.18 135.6Z" fill="#0000FF"/>
<path d="M421.45 157.05L423.27 160.2L419.64 160.2Z" fill="#0000FF"/>
<path d="M434.91 170.15L436.73 173.3L433.09 173.3Z" fill="#0000FF"/>
<rect x="378.4" y="96.4" width="59.2" height="79.1" fill="none" stroke="#A0A0A0" stroke-width="1.1"/>
<line x1="377.1" y1="156.5" x2="378.4" y2="156.5" stroke="#8C8C8C" stroke-width="0.8"/>
<text transform="translate(376.65 159.35) scale(0.89 1.08)" class="ax" text-anchor="end">0.0</text>
<line x1="377.1" y1="133.98" x2="378.4" y2="133.98" stroke="#8C8C8C" stroke-width="0.8"/>
<text transform="translate(376.65 136.83) scale(0.89 1.08)" class="ax" text-anchor="end">0.4</text>
<line x1="377.1" y1="111.46" x2="378.4" y2="111.46" stroke="#8C8C8C" stroke-width="0.8"/>
<text transform="translate(376.65 114.31) scale(0.89 1.08)" class="ax" text-anchor="end">0.8</text>
<line x1="437.6" y1="116.11" x2="438.9" y2="116.11" stroke="#8C8C8C" stroke-width="0.8"/>
<text transform="translate(439.9 119.11) scale(0.89 1.05)" class="axr">20000</text>
<line x1="437.6" y1="136.3" x2="438.9" y2="136.3" stroke="#8C8C8C" stroke-width="0.8"/>
<text transform="translate(439.9 139.3) scale(0.89 1.05)" class="axr">10000</text>
<line x1="437.6" y1="156.5" x2="438.9" y2="156.5" stroke="#8C8C8C" stroke-width="0.8"/>
<text transform="translate(439.9 159.5) scale(0.89 1.05)" class="axr">0</text>
<line x1="468.7" y1="167.76" x2="536.7" y2="167.76" stroke="#F7F7F7" stroke-width="0.6"/><line x1="468.7" y1="145.24" x2="536.7" y2="145.24" stroke="#F7F7F7" stroke-width="0.6"/><line x1="468.7" y1="122.72" x2="536.7" y2="122.72" stroke="#F7F7F7" stroke-width="0.6"/><line x1="468.7" y1="100.2" x2="536.7" y2="100.2" stroke="#F7F7F7" stroke-width="0.6"/><line x1="479.52" y1="96.4" x2="479.52" y2="175.5" stroke="#F7F7F7" stroke-width="0.6"/><line x1="494.97" y1="96.4" x2="494.97" y2="175.5" stroke="#F7F7F7" stroke-width="0.6"/><line x1="510.43" y1="96.4" x2="510.43" y2="175.5" stroke="#F7F7F7" stroke-width="0.6"/><line x1="525.88" y1="96.4" x2="525.88" y2="175.5" stroke="#F7F7F7" stroke-width="0.6"/><line x1="468.7" y1="133.98" x2="536.7" y2="133.98" stroke="#F0F0F0" stroke-width="0.8"/><line x1="468.7" y1="111.46" x2="536.7" y2="111.46" stroke="#F0F0F0" stroke-width="0.8"/><line x1="471.79" y1="96.4" x2="471.79" y2="175.5" stroke="#F0F0F0" stroke-width="0.8"/><line x1="487.25" y1="96.4" x2="487.25" y2="175.5" stroke="#F0F0F0" stroke-width="0.8"/><line x1="502.7" y1="96.4" x2="502.7" y2="175.5" stroke="#F0F0F0" stroke-width="0.8"/><line x1="518.15" y1="96.4" x2="518.15" y2="175.5" stroke="#F0F0F0" stroke-width="0.8"/><line x1="533.61" y1="96.4" x2="533.61" y2="175.5" stroke="#F0F0F0" stroke-width="0.8"/>
<line x1="468.7" y1="156.5" x2="536.7" y2="156.5" stroke="#777" stroke-width="0.9"/>
<line x1="502.7" y1="175.5" x2="502.7" y2="96.4" stroke="#111" stroke-width="1.1" stroke-dasharray="3.1 3.15" stroke-dashoffset="0.5"/>
<polyline points="471.79,128.25 487.25,121.95 502.7,134.65 518.15,139.35 533.61,144.65" fill="none" stroke="#0000FF" stroke-width="1" stroke-dasharray="0.83 2.49" stroke-linecap="butt"/>
<polyline points="471.79,100.1 487.25,100.1 502.7,100.1 518.15,106.2 533.61,104.4" fill="none" stroke="#111" stroke-width="0.95"/>
<circle cx="471.79" cy="100.1" r="1.1" fill="#000"/>
<circle cx="487.25" cy="100.1" r="1.1" fill="#000"/>
<circle cx="502.7" cy="100.1" r="1.1" fill="#000"/>
<circle cx="518.15" cy="106.2" r="1.1" fill="#000"/>
<circle cx="533.61" cy="104.4" r="1.1" fill="#000"/>
<path d="M471.79 126.15L473.61 129.3L469.97 129.3Z" fill="#0000FF"/>
<path d="M487.25 119.85L489.06 123L485.43 123Z" fill="#0000FF"/>
<path d="M502.7 132.55L504.52 135.7L500.88 135.7Z" fill="#0000FF"/>
<path d="M518.15 137.25L519.97 140.4L516.34 140.4Z" fill="#0000FF"/>
<path d="M533.61 142.55L535.43 145.7L531.79 145.7Z" fill="#0000FF"/>
<rect x="468.7" y="96.4" width="68" height="79.1" fill="none" stroke="#A0A0A0" stroke-width="1.1"/>
<line x1="467.4" y1="156.5" x2="468.7" y2="156.5" stroke="#8C8C8C" stroke-width="0.8"/>
<text transform="translate(466.95 159.35) scale(0.89 1.08)" class="ax" text-anchor="end">0.0</text>
<line x1="467.4" y1="133.98" x2="468.7" y2="133.98" stroke="#8C8C8C" stroke-width="0.8"/>
<text transform="translate(466.95 136.83) scale(0.89 1.08)" class="ax" text-anchor="end">0.4</text>
<line x1="467.4" y1="111.46" x2="468.7" y2="111.46" stroke="#8C8C8C" stroke-width="0.8"/>
<text transform="translate(466.95 114.31) scale(0.89 1.08)" class="ax" text-anchor="end">0.8</text>
<line x1="536.7" y1="97.89" x2="538" y2="97.89" stroke="#8C8C8C" stroke-width="0.8"/>
<text transform="translate(539 100.89) scale(0.89 1.05)" class="axr">75</text>
<line x1="536.7" y1="117.4" x2="538" y2="117.4" stroke="#8C8C8C" stroke-width="0.8"/>
<text transform="translate(539 120.4) scale(0.89 1.05)" class="axr">50</text>
<line x1="536.7" y1="137" x2="538" y2="137" stroke="#8C8C8C" stroke-width="0.8"/>
<text transform="translate(539 140) scale(0.89 1.05)" class="axr">25</text>
<line x1="536.7" y1="156.5" x2="538" y2="156.5" stroke="#8C8C8C" stroke-width="0.8"/>
<text transform="translate(539 159.5) scale(0.89 1.05)" class="axr">0</text>
<line x1="17.3" y1="249.75" x2="83.8" y2="249.75" stroke="#F7F7F7" stroke-width="0.6"/><line x1="17.3" y1="226.85" x2="83.8" y2="226.85" stroke="#F7F7F7" stroke-width="0.6"/><line x1="17.3" y1="203.95" x2="83.8" y2="203.95" stroke="#F7F7F7" stroke-width="0.6"/><line x1="17.3" y1="181.05" x2="83.8" y2="181.05" stroke="#F7F7F7" stroke-width="0.6"/><line x1="27.88" y1="177.9" x2="27.88" y2="257.2" stroke="#F7F7F7" stroke-width="0.6"/><line x1="42.99" y1="177.9" x2="42.99" y2="257.2" stroke="#F7F7F7" stroke-width="0.6"/><line x1="58.11" y1="177.9" x2="58.11" y2="257.2" stroke="#F7F7F7" stroke-width="0.6"/><line x1="73.22" y1="177.9" x2="73.22" y2="257.2" stroke="#F7F7F7" stroke-width="0.6"/><line x1="17.3" y1="215.4" x2="83.8" y2="215.4" stroke="#F0F0F0" stroke-width="0.8"/><line x1="17.3" y1="192.5" x2="83.8" y2="192.5" stroke="#F0F0F0" stroke-width="0.8"/><line x1="20.32" y1="177.9" x2="20.32" y2="257.2" stroke="#F0F0F0" stroke-width="0.8"/><line x1="35.44" y1="177.9" x2="35.44" y2="257.2" stroke="#F0F0F0" stroke-width="0.8"/><line x1="50.55" y1="177.9" x2="50.55" y2="257.2" stroke="#F0F0F0" stroke-width="0.8"/><line x1="65.66" y1="177.9" x2="65.66" y2="257.2" stroke="#F0F0F0" stroke-width="0.8"/><line x1="80.78" y1="177.9" x2="80.78" y2="257.2" stroke="#F0F0F0" stroke-width="0.8"/>
<line x1="17.3" y1="238.3" x2="83.8" y2="238.3" stroke="#777" stroke-width="0.9"/>
<line x1="50.55" y1="257.2" x2="50.55" y2="177.9" stroke="#111" stroke-width="1.1" stroke-dasharray="3.1 3.15" stroke-dashoffset="0.5"/>
<polyline points="20.32,204.25 35.44,184.85 50.55,186.05 65.66,183.75 80.78,181.55" fill="none" stroke="#0000FF" stroke-width="1" stroke-dasharray="0.83 2.49" stroke-linecap="butt"/>
<polyline points="20.32,181 35.44,181 50.55,181 65.66,193.5 80.78,189.3" fill="none" stroke="#111" stroke-width="0.95"/>
<circle cx="20.32" cy="181" r="1.1" fill="#000"/>
<circle cx="35.44" cy="181" r="1.1" fill="#000"/>
<circle cx="50.55" cy="181" r="1.1" fill="#000"/>
<circle cx="65.66" cy="193.5" r="1.1" fill="#000"/>
<circle cx="80.78" cy="189.3" r="1.1" fill="#000"/>
<path d="M20.32 202.15L22.14 205.3L18.5 205.3Z" fill="#0000FF"/>
<path d="M35.44 182.75L37.25 185.9L33.62 185.9Z" fill="#0000FF"/>
<path d="M50.55 183.95L52.37 187.1L48.73 187.1Z" fill="#0000FF"/>
<path d="M65.66 181.65L67.48 184.8L63.85 184.8Z" fill="#0000FF"/>
<path d="M80.78 179.45L82.6 182.6L78.96 182.6Z" fill="#0000FF"/>
<rect x="17.3" y="177.9" width="66.5" height="79.3" fill="none" stroke="#A0A0A0" stroke-width="1.1"/>
<line x1="16" y1="238.3" x2="17.3" y2="238.3" stroke="#8C8C8C" stroke-width="0.8"/>
<text transform="translate(15.55 241.15) scale(0.89 1.08)" class="ax" text-anchor="end">0.0</text>
<line x1="16" y1="215.4" x2="17.3" y2="215.4" stroke="#8C8C8C" stroke-width="0.8"/>
<text transform="translate(15.55 218.25) scale(0.89 1.08)" class="ax" text-anchor="end">0.4</text>
<line x1="16" y1="192.5" x2="17.3" y2="192.5" stroke="#8C8C8C" stroke-width="0.8"/>
<text transform="translate(15.55 195.35) scale(0.89 1.08)" class="ax" text-anchor="end">0.8</text>
<line x1="83.8" y1="179.69" x2="85.1" y2="179.69" stroke="#8C8C8C" stroke-width="0.8"/>
<text transform="translate(86.1 182.69) scale(0.89 1.05)" class="axr">0.9</text>
<line x1="83.8" y1="199.2" x2="85.1" y2="199.2" stroke="#8C8C8C" stroke-width="0.8"/>
<text transform="translate(86.1 202.2) scale(0.89 1.05)" class="axr">0.6</text>
<line x1="83.8" y1="218.8" x2="85.1" y2="218.8" stroke="#8C8C8C" stroke-width="0.8"/>
<text transform="translate(86.1 221.8) scale(0.89 1.05)" class="axr">0.3</text>
<line x1="83.8" y1="238.3" x2="85.1" y2="238.3" stroke="#8C8C8C" stroke-width="0.8"/>
<text transform="translate(86.1 241.3) scale(0.89 1.05)" class="axr">0.0</text>
<line x1="20.32" y1="257.2" x2="20.32" y2="258.5" stroke="#8C8C8C" stroke-width="0.8"/>
<text transform="translate(20.32 264.2) scale(0.89 1)" class="ax" text-anchor="middle">2</text>
<line x1="35.44" y1="257.2" x2="35.44" y2="258.5" stroke="#8C8C8C" stroke-width="0.8"/>
<text transform="translate(35.44 264.2) scale(0.89 1)" class="ax" text-anchor="middle">3</text>
<line x1="50.55" y1="257.2" x2="50.55" y2="258.5" stroke="#8C8C8C" stroke-width="0.8"/>
<text transform="translate(50.55 264.2) scale(0.89 1)" class="ax" text-anchor="middle">4</text>
<line x1="65.66" y1="257.2" x2="65.66" y2="258.5" stroke="#8C8C8C" stroke-width="0.8"/>
<text transform="translate(65.66 264.2) scale(0.89 1)" class="ax" text-anchor="middle">5</text>
<line x1="80.78" y1="257.2" x2="80.78" y2="258.5" stroke="#8C8C8C" stroke-width="0.8"/>
<text transform="translate(80.78 264.2) scale(0.89 1)" class="ax" text-anchor="middle">6</text>
<line x1="107.4" y1="249.75" x2="174.4" y2="249.75" stroke="#F7F7F7" stroke-width="0.6"/><line x1="107.4" y1="226.85" x2="174.4" y2="226.85" stroke="#F7F7F7" stroke-width="0.6"/><line x1="107.4" y1="203.95" x2="174.4" y2="203.95" stroke="#F7F7F7" stroke-width="0.6"/><line x1="107.4" y1="181.05" x2="174.4" y2="181.05" stroke="#F7F7F7" stroke-width="0.6"/><line x1="118.06" y1="177.9" x2="118.06" y2="257.2" stroke="#F7F7F7" stroke-width="0.6"/><line x1="133.29" y1="177.9" x2="133.29" y2="257.2" stroke="#F7F7F7" stroke-width="0.6"/><line x1="148.51" y1="177.9" x2="148.51" y2="257.2" stroke="#F7F7F7" stroke-width="0.6"/><line x1="163.74" y1="177.9" x2="163.74" y2="257.2" stroke="#F7F7F7" stroke-width="0.6"/><line x1="107.4" y1="215.4" x2="174.4" y2="215.4" stroke="#F0F0F0" stroke-width="0.8"/><line x1="107.4" y1="192.5" x2="174.4" y2="192.5" stroke="#F0F0F0" stroke-width="0.8"/><line x1="110.45" y1="177.9" x2="110.45" y2="257.2" stroke="#F0F0F0" stroke-width="0.8"/><line x1="125.67" y1="177.9" x2="125.67" y2="257.2" stroke="#F0F0F0" stroke-width="0.8"/><line x1="140.9" y1="177.9" x2="140.9" y2="257.2" stroke="#F0F0F0" stroke-width="0.8"/><line x1="156.13" y1="177.9" x2="156.13" y2="257.2" stroke="#F0F0F0" stroke-width="0.8"/><line x1="171.35" y1="177.9" x2="171.35" y2="257.2" stroke="#F0F0F0" stroke-width="0.8"/>
<line x1="107.4" y1="238.3" x2="174.4" y2="238.3" stroke="#777" stroke-width="0.9"/>
<line x1="140.9" y1="257.2" x2="140.9" y2="177.9" stroke="#111" stroke-width="1.1" stroke-dasharray="3.1 3.15" stroke-dashoffset="0.5"/>
<polyline points="110.45,185.15 125.67,218.75 140.9,218.55 156.13,223.15 171.35,226.25" fill="none" stroke="#0000FF" stroke-width="1" stroke-dasharray="0.83 2.49" stroke-linecap="butt"/>
<polyline points="110.45,181 125.67,181 140.9,181 156.13,193.5 171.35,189.3" fill="none" stroke="#111" stroke-width="0.95"/>
<circle cx="110.45" cy="181" r="1.1" fill="#000"/>
<circle cx="125.67" cy="181" r="1.1" fill="#000"/>
<circle cx="140.9" cy="181" r="1.1" fill="#000"/>
<circle cx="156.13" cy="193.5" r="1.1" fill="#000"/>
<circle cx="171.35" cy="189.3" r="1.1" fill="#000"/>
<path d="M110.45 183.05L112.26 186.2L108.63 186.2Z" fill="#0000FF"/>
<path d="M125.67 216.65L127.49 219.8L123.85 219.8Z" fill="#0000FF"/>
<path d="M140.9 216.45L142.72 219.6L139.08 219.6Z" fill="#0000FF"/>
<path d="M156.13 221.05L157.95 224.2L154.31 224.2Z" fill="#0000FF"/>
<path d="M171.35 224.15L173.17 227.3L169.54 227.3Z" fill="#0000FF"/>
<rect x="107.4" y="177.9" width="67" height="79.3" fill="none" stroke="#A0A0A0" stroke-width="1.1"/>
<line x1="106.1" y1="238.3" x2="107.4" y2="238.3" stroke="#8C8C8C" stroke-width="0.8"/>
<text transform="translate(105.65 241.15) scale(0.89 1.08)" class="ax" text-anchor="end">0.0</text>
<line x1="106.1" y1="215.4" x2="107.4" y2="215.4" stroke="#8C8C8C" stroke-width="0.8"/>
<text transform="translate(105.65 218.25) scale(0.89 1.08)" class="ax" text-anchor="end">0.4</text>
<line x1="106.1" y1="192.5" x2="107.4" y2="192.5" stroke="#8C8C8C" stroke-width="0.8"/>
<text transform="translate(105.65 195.35) scale(0.89 1.08)" class="ax" text-anchor="end">0.8</text>
<line x1="174.4" y1="179.89" x2="175.7" y2="179.89" stroke="#8C8C8C" stroke-width="0.8"/>
<text transform="translate(176.7 182.89) scale(0.89 1.05)" class="axr">0.6</text>
<line x1="174.4" y1="199.39" x2="175.7" y2="199.39" stroke="#8C8C8C" stroke-width="0.8"/>
<text transform="translate(176.7 202.39) scale(0.89 1.05)" class="axr">0.4</text>
<line x1="174.4" y1="218.8" x2="175.7" y2="218.8" stroke="#8C8C8C" stroke-width="0.8"/>
<text transform="translate(176.7 221.8) scale(0.89 1.05)" class="axr">0.2</text>
<line x1="174.4" y1="238.3" x2="175.7" y2="238.3" stroke="#8C8C8C" stroke-width="0.8"/>
<text transform="translate(176.7 241.3) scale(0.89 1.05)" class="axr">0.0</text>
<line x1="110.45" y1="257.2" x2="110.45" y2="258.5" stroke="#8C8C8C" stroke-width="0.8"/>
<text transform="translate(110.45 264.2) scale(0.89 1)" class="ax" text-anchor="middle">2</text>
<line x1="125.67" y1="257.2" x2="125.67" y2="258.5" stroke="#8C8C8C" stroke-width="0.8"/>
<text transform="translate(125.67 264.2) scale(0.89 1)" class="ax" text-anchor="middle">3</text>
<line x1="140.9" y1="257.2" x2="140.9" y2="258.5" stroke="#8C8C8C" stroke-width="0.8"/>
<text transform="translate(140.9 264.2) scale(0.89 1)" class="ax" text-anchor="middle">4</text>
<line x1="156.13" y1="257.2" x2="156.13" y2="258.5" stroke="#8C8C8C" stroke-width="0.8"/>
<text transform="translate(156.13 264.2) scale(0.89 1)" class="ax" text-anchor="middle">5</text>
<line x1="171.35" y1="257.2" x2="171.35" y2="258.5" stroke="#8C8C8C" stroke-width="0.8"/>
<text transform="translate(171.35 264.2) scale(0.89 1)" class="ax" text-anchor="middle">6</text>
<line x1="198.1" y1="249.75" x2="264.3" y2="249.75" stroke="#F7F7F7" stroke-width="0.6"/><line x1="198.1" y1="226.85" x2="264.3" y2="226.85" stroke="#F7F7F7" stroke-width="0.6"/><line x1="198.1" y1="203.95" x2="264.3" y2="203.95" stroke="#F7F7F7" stroke-width="0.6"/><line x1="198.1" y1="181.05" x2="264.3" y2="181.05" stroke="#F7F7F7" stroke-width="0.6"/><line x1="208.63" y1="177.9" x2="208.63" y2="257.2" stroke="#F7F7F7" stroke-width="0.6"/><line x1="223.68" y1="177.9" x2="223.68" y2="257.2" stroke="#F7F7F7" stroke-width="0.6"/><line x1="238.72" y1="177.9" x2="238.72" y2="257.2" stroke="#F7F7F7" stroke-width="0.6"/><line x1="253.77" y1="177.9" x2="253.77" y2="257.2" stroke="#F7F7F7" stroke-width="0.6"/><line x1="198.1" y1="215.4" x2="264.3" y2="215.4" stroke="#F0F0F0" stroke-width="0.8"/><line x1="198.1" y1="192.5" x2="264.3" y2="192.5" stroke="#F0F0F0" stroke-width="0.8"/><line x1="201.11" y1="177.9" x2="201.11" y2="257.2" stroke="#F0F0F0" stroke-width="0.8"/><line x1="216.15" y1="177.9" x2="216.15" y2="257.2" stroke="#F0F0F0" stroke-width="0.8"/><line x1="231.2" y1="177.9" x2="231.2" y2="257.2" stroke="#F0F0F0" stroke-width="0.8"/><line x1="246.25" y1="177.9" x2="246.25" y2="257.2" stroke="#F0F0F0" stroke-width="0.8"/><line x1="261.29" y1="177.9" x2="261.29" y2="257.2" stroke="#F0F0F0" stroke-width="0.8"/>
<line x1="198.1" y1="238.3" x2="264.3" y2="238.3" stroke="#777" stroke-width="0.9"/>
<line x1="231.2" y1="257.2" x2="231.2" y2="177.9" stroke="#111" stroke-width="1.1" stroke-dasharray="3.1 3.15" stroke-dashoffset="0.5"/>
<polyline points="201.11,214.85 216.15,224.05 231.2,220.85 246.25,222.65 261.29,224.05" fill="none" stroke="#0000FF" stroke-width="1" stroke-dasharray="0.83 2.49" stroke-linecap="butt"/>
<polyline points="201.11,181 216.15,181 231.2,181 246.25,193.5 261.29,189.3" fill="none" stroke="#111" stroke-width="0.95"/>
<circle cx="201.11" cy="181" r="1.1" fill="#000"/>
<circle cx="216.15" cy="181" r="1.1" fill="#000"/>
<circle cx="231.2" cy="181" r="1.1" fill="#000"/>
<circle cx="246.25" cy="193.5" r="1.1" fill="#000"/>
<circle cx="261.29" cy="189.3" r="1.1" fill="#000"/>
<path d="M201.11 212.75L202.93 215.9L199.29 215.9Z" fill="#0000FF"/>
<path d="M216.15 221.95L217.97 225.1L214.34 225.1Z" fill="#0000FF"/>
<path d="M231.2 218.75L233.02 221.9L229.38 221.9Z" fill="#0000FF"/>
<path d="M246.25 220.55L248.06 223.7L244.43 223.7Z" fill="#0000FF"/>
<path d="M261.29 221.95L263.11 225.1L259.47 225.1Z" fill="#0000FF"/>
<rect x="198.1" y="177.9" width="66.2" height="79.3" fill="none" stroke="#A0A0A0" stroke-width="1.1"/>
<line x1="196.8" y1="238.3" x2="198.1" y2="238.3" stroke="#8C8C8C" stroke-width="0.8"/>
<text transform="translate(196.35 241.15) scale(0.89 1.08)" class="ax" text-anchor="end">0.0</text>
<line x1="196.8" y1="215.4" x2="198.1" y2="215.4" stroke="#8C8C8C" stroke-width="0.8"/>
<text transform="translate(196.35 218.25) scale(0.89 1.08)" class="ax" text-anchor="end">0.4</text>
<line x1="196.8" y1="192.5" x2="198.1" y2="192.5" stroke="#8C8C8C" stroke-width="0.8"/>
<text transform="translate(196.35 195.35) scale(0.89 1.08)" class="ax" text-anchor="end">0.8</text>
<line x1="264.3" y1="181.97" x2="265.6" y2="181.97" stroke="#8C8C8C" stroke-width="0.8"/>
<text transform="translate(266.6 184.97) scale(0.89 1.05)" class="axr">0.9</text>
<line x1="264.3" y1="200.78" x2="265.6" y2="200.78" stroke="#8C8C8C" stroke-width="0.8"/>
<text transform="translate(266.6 203.78) scale(0.89 1.05)" class="axr">0.6</text>
<line x1="264.3" y1="219.49" x2="265.6" y2="219.49" stroke="#8C8C8C" stroke-width="0.8"/>
<text transform="translate(266.6 222.49) scale(0.89 1.05)" class="axr">0.3</text>
<line x1="264.3" y1="238.3" x2="265.6" y2="238.3" stroke="#8C8C8C" stroke-width="0.8"/>
<text transform="translate(266.6 241.3) scale(0.89 1.05)" class="axr">0.0</text>
<line x1="201.11" y1="257.2" x2="201.11" y2="258.5" stroke="#8C8C8C" stroke-width="0.8"/>
<text transform="translate(201.11 264.2) scale(0.89 1)" class="ax" text-anchor="middle">2</text>
<line x1="216.15" y1="257.2" x2="216.15" y2="258.5" stroke="#8C8C8C" stroke-width="0.8"/>
<text transform="translate(216.15 264.2) scale(0.89 1)" class="ax" text-anchor="middle">3</text>
<line x1="231.2" y1="257.2" x2="231.2" y2="258.5" stroke="#8C8C8C" stroke-width="0.8"/>
<text transform="translate(231.2 264.2) scale(0.89 1)" class="ax" text-anchor="middle">4</text>
<line x1="246.25" y1="257.2" x2="246.25" y2="258.5" stroke="#8C8C8C" stroke-width="0.8"/>
<text transform="translate(246.25 264.2) scale(0.89 1)" class="ax" text-anchor="middle">5</text>
<line x1="261.29" y1="257.2" x2="261.29" y2="258.5" stroke="#8C8C8C" stroke-width="0.8"/>
<text transform="translate(261.29 264.2) scale(0.89 1)" class="ax" text-anchor="middle">6</text>
<line x1="288.3" y1="249.75" x2="354.5" y2="249.75" stroke="#F7F7F7" stroke-width="0.6"/><line x1="288.3" y1="226.85" x2="354.5" y2="226.85" stroke="#F7F7F7" stroke-width="0.6"/><line x1="288.3" y1="203.95" x2="354.5" y2="203.95" stroke="#F7F7F7" stroke-width="0.6"/><line x1="288.3" y1="181.05" x2="354.5" y2="181.05" stroke="#F7F7F7" stroke-width="0.6"/><line x1="298.83" y1="177.9" x2="298.83" y2="257.2" stroke="#F7F7F7" stroke-width="0.6"/><line x1="313.88" y1="177.9" x2="313.88" y2="257.2" stroke="#F7F7F7" stroke-width="0.6"/><line x1="328.92" y1="177.9" x2="328.92" y2="257.2" stroke="#F7F7F7" stroke-width="0.6"/><line x1="343.97" y1="177.9" x2="343.97" y2="257.2" stroke="#F7F7F7" stroke-width="0.6"/><line x1="288.3" y1="215.4" x2="354.5" y2="215.4" stroke="#F0F0F0" stroke-width="0.8"/><line x1="288.3" y1="192.5" x2="354.5" y2="192.5" stroke="#F0F0F0" stroke-width="0.8"/><line x1="291.31" y1="177.9" x2="291.31" y2="257.2" stroke="#F0F0F0" stroke-width="0.8"/><line x1="306.35" y1="177.9" x2="306.35" y2="257.2" stroke="#F0F0F0" stroke-width="0.8"/><line x1="321.4" y1="177.9" x2="321.4" y2="257.2" stroke="#F0F0F0" stroke-width="0.8"/><line x1="336.45" y1="177.9" x2="336.45" y2="257.2" stroke="#F0F0F0" stroke-width="0.8"/><line x1="351.49" y1="177.9" x2="351.49" y2="257.2" stroke="#F0F0F0" stroke-width="0.8"/>
<line x1="288.3" y1="238.3" x2="354.5" y2="238.3" stroke="#777" stroke-width="0.9"/>
<line x1="321.4" y1="257.2" x2="321.4" y2="177.9" stroke="#111" stroke-width="1.1" stroke-dasharray="3.1 3.15" stroke-dashoffset="0.5"/>
<polyline points="291.31,196.95 306.35,184.25 321.4,184.85 336.45,182.95 351.49,181.95" fill="none" stroke="#0000FF" stroke-width="1" stroke-dasharray="0.83 2.49" stroke-linecap="butt"/>
<polyline points="291.31,181 306.35,181 321.4,181 336.45,193.5 351.49,189.3" fill="none" stroke="#111" stroke-width="0.95"/>
<circle cx="291.31" cy="181" r="1.1" fill="#000"/>
<circle cx="306.35" cy="181" r="1.1" fill="#000"/>
<circle cx="321.4" cy="181" r="1.1" fill="#000"/>
<circle cx="336.45" cy="193.5" r="1.1" fill="#000"/>
<circle cx="351.49" cy="189.3" r="1.1" fill="#000"/>
<path d="M291.31 194.85L293.13 198L289.49 198Z" fill="#0000FF"/>
<path d="M306.35 182.15L308.17 185.3L304.54 185.3Z" fill="#0000FF"/>
<path d="M321.4 182.75L323.22 185.9L319.58 185.9Z" fill="#0000FF"/>
<path d="M336.45 180.85L338.26 184L334.63 184Z" fill="#0000FF"/>
<path d="M351.49 179.85L353.31 183L349.67 183Z" fill="#0000FF"/>
<rect x="288.3" y="177.9" width="66.2" height="79.3" fill="none" stroke="#A0A0A0" stroke-width="1.1"/>
<line x1="287" y1="238.3" x2="288.3" y2="238.3" stroke="#8C8C8C" stroke-width="0.8"/>
<text transform="translate(286.55 241.15) scale(0.89 1.08)" class="ax" text-anchor="end">0.0</text>
<line x1="287" y1="215.4" x2="288.3" y2="215.4" stroke="#8C8C8C" stroke-width="0.8"/>
<text transform="translate(286.55 218.25) scale(0.89 1.08)" class="ax" text-anchor="end">0.4</text>
<line x1="287" y1="192.5" x2="288.3" y2="192.5" stroke="#8C8C8C" stroke-width="0.8"/>
<text transform="translate(286.55 195.35) scale(0.89 1.08)" class="ax" text-anchor="end">0.8</text>
<line x1="354.5" y1="181.97" x2="355.8" y2="181.97" stroke="#8C8C8C" stroke-width="0.8"/>
<text transform="translate(356.8 184.97) scale(0.89 1.05)" class="axr">0.9</text>
<line x1="354.5" y1="200.78" x2="355.8" y2="200.78" stroke="#8C8C8C" stroke-width="0.8"/>
<text transform="translate(356.8 203.78) scale(0.89 1.05)" class="axr">0.6</text>
<line x1="354.5" y1="219.49" x2="355.8" y2="219.49" stroke="#8C8C8C" stroke-width="0.8"/>
<text transform="translate(356.8 222.49) scale(0.89 1.05)" class="axr">0.3</text>
<line x1="354.5" y1="238.3" x2="355.8" y2="238.3" stroke="#8C8C8C" stroke-width="0.8"/>
<text transform="translate(356.8 241.3) scale(0.89 1.05)" class="axr">0.0</text>
<line x1="291.31" y1="257.2" x2="291.31" y2="258.5" stroke="#8C8C8C" stroke-width="0.8"/>
<text transform="translate(291.31 264.2) scale(0.89 1)" class="ax" text-anchor="middle">2</text>
<line x1="306.35" y1="257.2" x2="306.35" y2="258.5" stroke="#8C8C8C" stroke-width="0.8"/>
<text transform="translate(306.35 264.2) scale(0.89 1)" class="ax" text-anchor="middle">3</text>
<line x1="321.4" y1="257.2" x2="321.4" y2="258.5" stroke="#8C8C8C" stroke-width="0.8"/>
<text transform="translate(321.4 264.2) scale(0.89 1)" class="ax" text-anchor="middle">4</text>
<line x1="336.45" y1="257.2" x2="336.45" y2="258.5" stroke="#8C8C8C" stroke-width="0.8"/>
<text transform="translate(336.45 264.2) scale(0.89 1)" class="ax" text-anchor="middle">5</text>
<line x1="351.49" y1="257.2" x2="351.49" y2="258.5" stroke="#8C8C8C" stroke-width="0.8"/>
<text transform="translate(351.49 264.2) scale(0.89 1)" class="ax" text-anchor="middle">6</text>
<line x1="378.4" y1="249.75" x2="437.6" y2="249.75" stroke="#F7F7F7" stroke-width="0.6"/><line x1="378.4" y1="226.85" x2="437.6" y2="226.85" stroke="#F7F7F7" stroke-width="0.6"/><line x1="378.4" y1="203.95" x2="437.6" y2="203.95" stroke="#F7F7F7" stroke-width="0.6"/><line x1="378.4" y1="181.05" x2="437.6" y2="181.05" stroke="#F7F7F7" stroke-width="0.6"/><line x1="387.82" y1="177.9" x2="387.82" y2="257.2" stroke="#F7F7F7" stroke-width="0.6"/><line x1="401.27" y1="177.9" x2="401.27" y2="257.2" stroke="#F7F7F7" stroke-width="0.6"/><line x1="414.73" y1="177.9" x2="414.73" y2="257.2" stroke="#F7F7F7" stroke-width="0.6"/><line x1="428.18" y1="177.9" x2="428.18" y2="257.2" stroke="#F7F7F7" stroke-width="0.6"/><line x1="378.4" y1="215.4" x2="437.6" y2="215.4" stroke="#F0F0F0" stroke-width="0.8"/><line x1="378.4" y1="192.5" x2="437.6" y2="192.5" stroke="#F0F0F0" stroke-width="0.8"/><line x1="381.09" y1="177.9" x2="381.09" y2="257.2" stroke="#F0F0F0" stroke-width="0.8"/><line x1="394.55" y1="177.9" x2="394.55" y2="257.2" stroke="#F0F0F0" stroke-width="0.8"/><line x1="408" y1="177.9" x2="408" y2="257.2" stroke="#F0F0F0" stroke-width="0.8"/><line x1="421.45" y1="177.9" x2="421.45" y2="257.2" stroke="#F0F0F0" stroke-width="0.8"/><line x1="434.91" y1="177.9" x2="434.91" y2="257.2" stroke="#F0F0F0" stroke-width="0.8"/>
<line x1="378.4" y1="238.3" x2="437.6" y2="238.3" stroke="#777" stroke-width="0.9"/>
<line x1="408" y1="257.2" x2="408" y2="177.9" stroke="#111" stroke-width="1.1" stroke-dasharray="3.1 3.15" stroke-dashoffset="0.5"/>
<polyline points="381.09,206.05 394.55,227.75 408,237.75 421.45,245.95 434.91,253.15" fill="none" stroke="#0000FF" stroke-width="1" stroke-dasharray="0.83 2.49" stroke-linecap="butt"/>
<polyline points="381.09,181 394.55,181 408,181 421.45,193.5 434.91,189.3" fill="none" stroke="#111" stroke-width="0.95"/>
<circle cx="381.09" cy="181" r="1.1" fill="#000"/>
<circle cx="394.55" cy="181" r="1.1" fill="#000"/>
<circle cx="408" cy="181" r="1.1" fill="#000"/>
<circle cx="421.45" cy="193.5" r="1.1" fill="#000"/>
<circle cx="434.91" cy="189.3" r="1.1" fill="#000"/>
<path d="M381.09 203.95L382.91 207.1L379.27 207.1Z" fill="#0000FF"/>
<path d="M394.55 225.65L396.36 228.8L392.73 228.8Z" fill="#0000FF"/>
<path d="M408 235.65L409.82 238.8L406.18 238.8Z" fill="#0000FF"/>
<path d="M421.45 243.85L423.27 247L419.64 247Z" fill="#0000FF"/>
<path d="M434.91 251.05L436.73 254.2L433.09 254.2Z" fill="#0000FF"/>
<rect x="378.4" y="177.9" width="59.2" height="79.3" fill="none" stroke="#A0A0A0" stroke-width="1.1"/>
<line x1="377.1" y1="238.3" x2="378.4" y2="238.3" stroke="#8C8C8C" stroke-width="0.8"/>
<text transform="translate(376.65 241.15) scale(0.89 1.08)" class="ax" text-anchor="end">0.0</text>
<line x1="377.1" y1="215.4" x2="378.4" y2="215.4" stroke="#8C8C8C" stroke-width="0.8"/>
<text transform="translate(376.65 218.25) scale(0.89 1.08)" class="ax" text-anchor="end">0.4</text>
<line x1="377.1" y1="192.5" x2="378.4" y2="192.5" stroke="#8C8C8C" stroke-width="0.8"/>
<text transform="translate(376.65 195.35) scale(0.89 1.08)" class="ax" text-anchor="end">0.8</text>
<line x1="437.6" y1="197.91" x2="438.9" y2="197.91" stroke="#8C8C8C" stroke-width="0.8"/>
<text transform="translate(439.9 200.91) scale(0.89 1.05)" class="axr">20000</text>
<line x1="437.6" y1="218.1" x2="438.9" y2="218.1" stroke="#8C8C8C" stroke-width="0.8"/>
<text transform="translate(439.9 221.1) scale(0.89 1.05)" class="axr">10000</text>
<line x1="437.6" y1="238.3" x2="438.9" y2="238.3" stroke="#8C8C8C" stroke-width="0.8"/>
<text transform="translate(439.9 241.3) scale(0.89 1.05)" class="axr">0</text>
<line x1="381.09" y1="257.2" x2="381.09" y2="258.5" stroke="#8C8C8C" stroke-width="0.8"/>
<text transform="translate(381.09 264.2) scale(0.89 1)" class="ax" text-anchor="middle">2</text>
<line x1="394.55" y1="257.2" x2="394.55" y2="258.5" stroke="#8C8C8C" stroke-width="0.8"/>
<text transform="translate(394.55 264.2) scale(0.89 1)" class="ax" text-anchor="middle">3</text>
<line x1="408" y1="257.2" x2="408" y2="258.5" stroke="#8C8C8C" stroke-width="0.8"/>
<text transform="translate(408 264.2) scale(0.89 1)" class="ax" text-anchor="middle">4</text>
<line x1="421.45" y1="257.2" x2="421.45" y2="258.5" stroke="#8C8C8C" stroke-width="0.8"/>
<text transform="translate(421.45 264.2) scale(0.89 1)" class="ax" text-anchor="middle">5</text>
<line x1="434.91" y1="257.2" x2="434.91" y2="258.5" stroke="#8C8C8C" stroke-width="0.8"/>
<text transform="translate(434.91 264.2) scale(0.89 1)" class="ax" text-anchor="middle">6</text>
<line x1="468.7" y1="249.75" x2="536.7" y2="249.75" stroke="#F7F7F7" stroke-width="0.6"/><line x1="468.7" y1="226.85" x2="536.7" y2="226.85" stroke="#F7F7F7" stroke-width="0.6"/><line x1="468.7" y1="203.95" x2="536.7" y2="203.95" stroke="#F7F7F7" stroke-width="0.6"/><line x1="468.7" y1="181.05" x2="536.7" y2="181.05" stroke="#F7F7F7" stroke-width="0.6"/><line x1="479.52" y1="177.9" x2="479.52" y2="257.2" stroke="#F7F7F7" stroke-width="0.6"/><line x1="494.97" y1="177.9" x2="494.97" y2="257.2" stroke="#F7F7F7" stroke-width="0.6"/><line x1="510.43" y1="177.9" x2="510.43" y2="257.2" stroke="#F7F7F7" stroke-width="0.6"/><line x1="525.88" y1="177.9" x2="525.88" y2="257.2" stroke="#F7F7F7" stroke-width="0.6"/><line x1="468.7" y1="215.4" x2="536.7" y2="215.4" stroke="#F0F0F0" stroke-width="0.8"/><line x1="468.7" y1="192.5" x2="536.7" y2="192.5" stroke="#F0F0F0" stroke-width="0.8"/><line x1="471.79" y1="177.9" x2="471.79" y2="257.2" stroke="#F0F0F0" stroke-width="0.8"/><line x1="487.25" y1="177.9" x2="487.25" y2="257.2" stroke="#F0F0F0" stroke-width="0.8"/><line x1="502.7" y1="177.9" x2="502.7" y2="257.2" stroke="#F0F0F0" stroke-width="0.8"/><line x1="518.15" y1="177.9" x2="518.15" y2="257.2" stroke="#F0F0F0" stroke-width="0.8"/><line x1="533.61" y1="177.9" x2="533.61" y2="257.2" stroke="#F0F0F0" stroke-width="0.8"/>
<line x1="468.7" y1="238.3" x2="536.7" y2="238.3" stroke="#777" stroke-width="0.9"/>
<line x1="502.7" y1="257.2" x2="502.7" y2="177.9" stroke="#111" stroke-width="1.1" stroke-dasharray="3.1 3.15" stroke-dashoffset="0.5"/>
<polyline points="471.79,204.85 487.25,216.95 502.7,227.35 518.15,229.55 533.61,223.75" fill="none" stroke="#0000FF" stroke-width="1" stroke-dasharray="0.83 2.49" stroke-linecap="butt"/>
<polyline points="471.79,181 487.25,181 502.7,181 518.15,193.5 533.61,189.3" fill="none" stroke="#111" stroke-width="0.95"/>
<circle cx="471.79" cy="181" r="1.1" fill="#000"/>
<circle cx="487.25" cy="181" r="1.1" fill="#000"/>
<circle cx="502.7" cy="181" r="1.1" fill="#000"/>
<circle cx="518.15" cy="193.5" r="1.1" fill="#000"/>
<circle cx="533.61" cy="189.3" r="1.1" fill="#000"/>
<path d="M471.79 202.75L473.61 205.9L469.97 205.9Z" fill="#0000FF"/>
<path d="M487.25 214.85L489.06 218L485.43 218Z" fill="#0000FF"/>
<path d="M502.7 225.25L504.52 228.4L500.88 228.4Z" fill="#0000FF"/>
<path d="M518.15 227.45L519.97 230.6L516.34 230.6Z" fill="#0000FF"/>
<path d="M533.61 221.65L535.43 224.8L531.79 224.8Z" fill="#0000FF"/>
<rect x="468.7" y="177.9" width="68" height="79.3" fill="none" stroke="#A0A0A0" stroke-width="1.1"/>
<line x1="467.4" y1="238.3" x2="468.7" y2="238.3" stroke="#8C8C8C" stroke-width="0.8"/>
<text transform="translate(466.95 241.15) scale(0.89 1.08)" class="ax" text-anchor="end">0.0</text>
<line x1="467.4" y1="215.4" x2="468.7" y2="215.4" stroke="#8C8C8C" stroke-width="0.8"/>
<text transform="translate(466.95 218.25) scale(0.89 1.08)" class="ax" text-anchor="end">0.4</text>
<line x1="467.4" y1="192.5" x2="468.7" y2="192.5" stroke="#8C8C8C" stroke-width="0.8"/>
<text transform="translate(466.95 195.35) scale(0.89 1.08)" class="ax" text-anchor="end">0.8</text>
<line x1="536.7" y1="179.69" x2="538" y2="179.69" stroke="#8C8C8C" stroke-width="0.8"/>
<text transform="translate(539 182.69) scale(0.89 1.05)" class="axr">75</text>
<line x1="536.7" y1="199.2" x2="538" y2="199.2" stroke="#8C8C8C" stroke-width="0.8"/>
<text transform="translate(539 202.2) scale(0.89 1.05)" class="axr">50</text>
<line x1="536.7" y1="218.8" x2="538" y2="218.8" stroke="#8C8C8C" stroke-width="0.8"/>
<text transform="translate(539 221.8) scale(0.89 1.05)" class="axr">25</text>
<line x1="536.7" y1="238.3" x2="538" y2="238.3" stroke="#8C8C8C" stroke-width="0.8"/>
<text transform="translate(539 241.3) scale(0.89 1.05)" class="axr">0</text>
<line x1="471.79" y1="257.2" x2="471.79" y2="258.5" stroke="#8C8C8C" stroke-width="0.8"/>
<text transform="translate(471.79 264.2) scale(0.89 1)" class="ax" text-anchor="middle">2</text>
<line x1="487.25" y1="257.2" x2="487.25" y2="258.5" stroke="#8C8C8C" stroke-width="0.8"/>
<text transform="translate(487.25 264.2) scale(0.89 1)" class="ax" text-anchor="middle">3</text>
<line x1="502.7" y1="257.2" x2="502.7" y2="258.5" stroke="#8C8C8C" stroke-width="0.8"/>
<text transform="translate(502.7 264.2) scale(0.89 1)" class="ax" text-anchor="middle">4</text>
<line x1="518.15" y1="257.2" x2="518.15" y2="258.5" stroke="#8C8C8C" stroke-width="0.8"/>
<text transform="translate(518.15 264.2) scale(0.89 1)" class="ax" text-anchor="middle">5</text>
<line x1="533.61" y1="257.2" x2="533.61" y2="258.5" stroke="#8C8C8C" stroke-width="0.8"/>
<text transform="translate(533.61 264.2) scale(0.89 1)" class="ax" text-anchor="middle">6</text>
<text transform="translate(276.3 273.9) scale(0.85 1)" class="xl" text-anchor="middle">Number of Estimated Classes</text>
</svg>
</body></html>
